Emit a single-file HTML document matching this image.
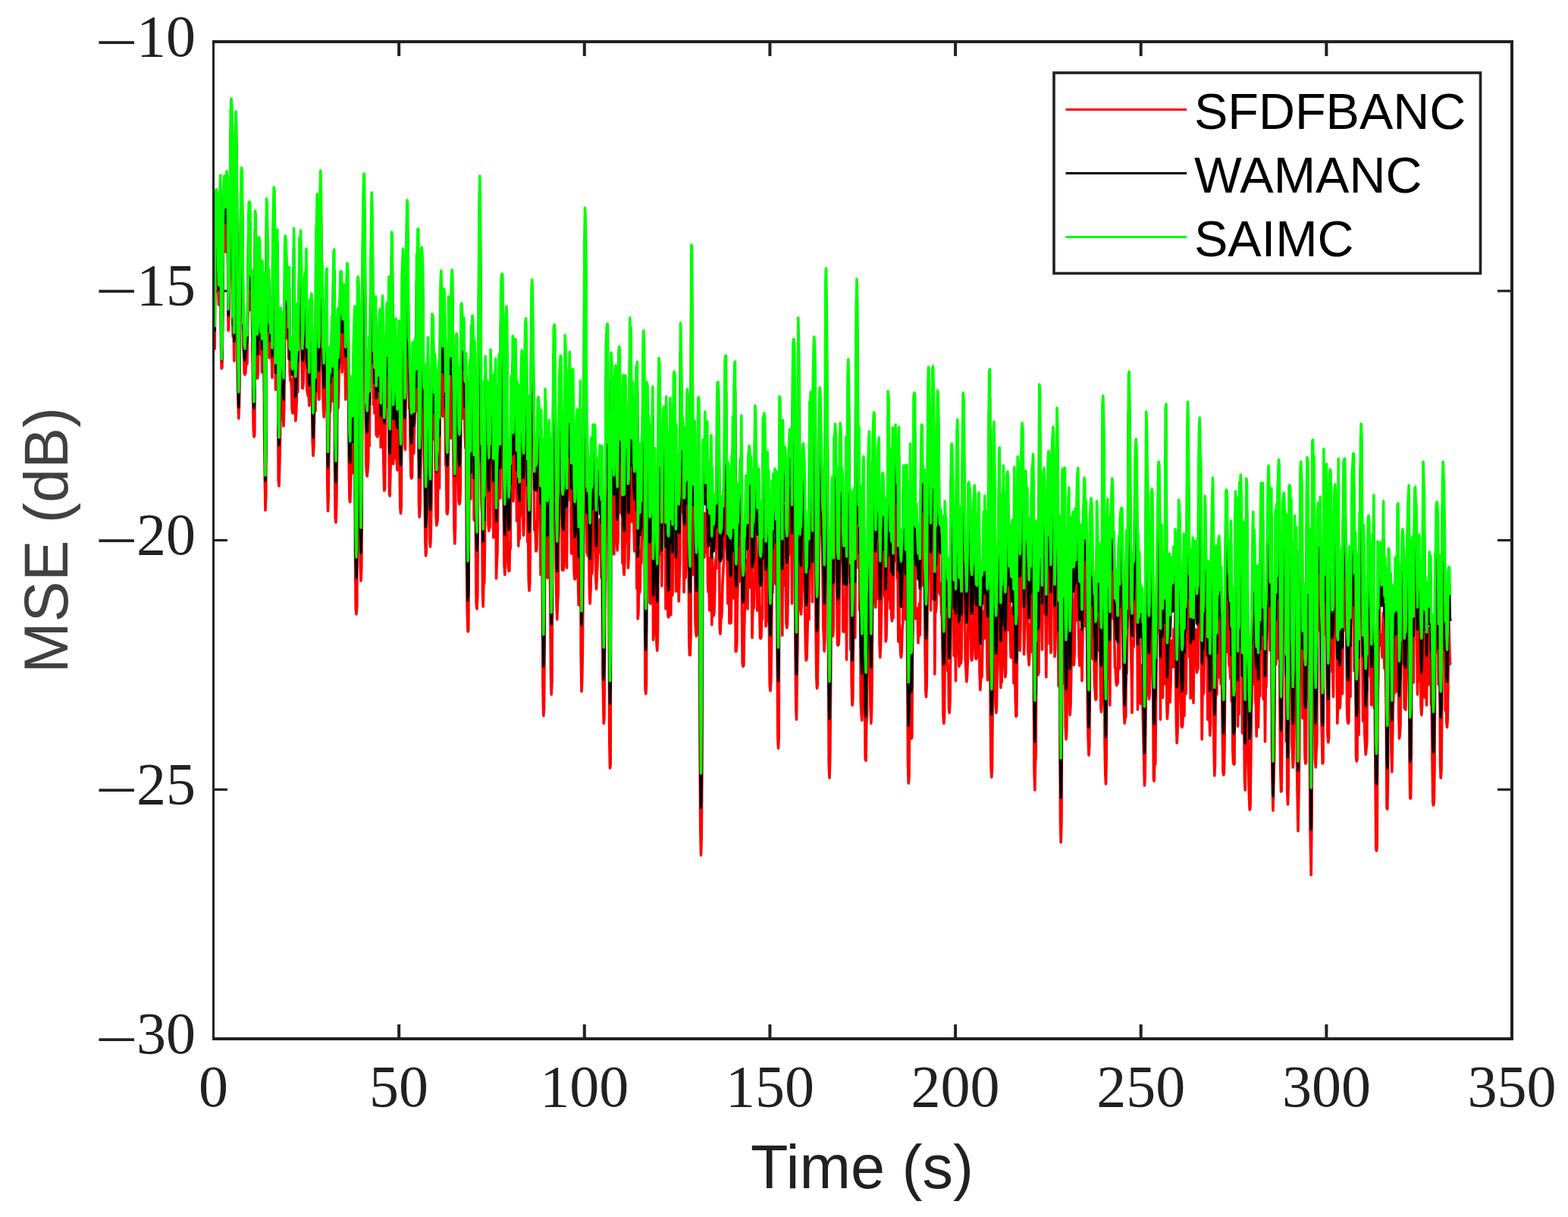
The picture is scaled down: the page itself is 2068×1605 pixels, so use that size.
<!DOCTYPE html>
<html><head><meta charset="utf-8"><style>
html,body{margin:0;padding:0;background:#fff;}
svg{display:block;}
</style></head><body>
<svg width="2068" height="1605" viewBox="0 0 2068 1605">
<rect width="2068" height="1605" fill="#fff"/>
<g fill="#212121"><rect x="524.14" y="1351" width="4" height="18"/><rect x="524.14" y="56" width="4" height="18"/><rect x="768.79" y="1351" width="4" height="18"/><rect x="768.79" y="56" width="4" height="18"/><rect x="1013.43" y="1351" width="4" height="18"/><rect x="1013.43" y="56" width="4" height="18"/><rect x="1258.07" y="1351" width="4" height="18"/><rect x="1258.07" y="56" width="4" height="18"/><rect x="1502.71" y="1351" width="4" height="18"/><rect x="1502.71" y="56" width="4" height="18"/><rect x="1747.36" y="1351" width="4" height="18"/><rect x="1747.36" y="56" width="4" height="18"/><rect x="1992.00" y="1351" width="4" height="18"/><rect x="1992.00" y="56" width="4" height="18"/><rect x="282" y="53.40" width="18" height="3.2"/><rect x="1975" y="53.40" width="18" height="3.2"/><rect x="282" y="382.15" width="18" height="3.2"/><rect x="1975" y="382.15" width="18" height="3.2"/><rect x="282" y="710.90" width="18" height="3.2"/><rect x="1975" y="710.90" width="18" height="3.2"/><rect x="282" y="1039.65" width="18" height="3.2"/><rect x="1975" y="1039.65" width="18" height="3.2"/><rect x="282" y="1368.40" width="18" height="3.2"/><rect x="1975" y="1368.40" width="18" height="3.2"/></g>
<g clip-path="url(#clip)">
<clipPath id="clip"><rect x="281.5" y="55.0" width="1712.5" height="1315.0"/></clipPath>
<path d="M282.5 318L283.2 460L284.0 313L284.8 307L285.5 292L286.2 297L287.0 347L287.8 382L288.5 402L289.2 291L290.0 304L290.8 274L291.5 458L292.2 486L293.0 484L293.8 420L294.5 321L295.2 298L296.0 275L296.8 300L297.5 332L298.2 297L299.0 270L299.8 304L300.5 348L301.2 436L302.0 417L302.8 373L303.5 295L304.2 228L305.0 175L305.8 198L306.5 298L307.2 444L308.0 427L308.8 476L309.5 237L310.2 247L311.0 192L311.8 223L312.5 318L313.2 490L314.0 529L314.8 552L315.5 534L316.2 479L317.0 358L317.8 305L318.5 267L319.2 299L320.0 353L320.8 456L321.5 466L322.2 492L323.0 494L323.8 492L324.5 481L325.2 473L326.0 480L326.8 420L327.5 365L328.2 316L329.0 313L329.8 325L330.5 409L331.2 390L332.0 397L332.8 440L333.5 508L334.2 565L335.0 576L335.8 574L336.5 326L337.2 344L338.0 450L338.8 481L339.5 499L340.2 492L341.0 431L341.8 361L342.5 383L343.2 391L344.0 468L344.8 398L345.5 491L346.2 384L347.0 488L347.8 388L348.5 561L349.2 627L350.0 673L350.8 651L351.5 312L352.2 320L353.0 388L353.8 442L354.5 392L355.2 472L356.0 454L356.8 472L357.5 465L358.2 463L359.0 498L359.8 374L360.5 339L361.2 297L362.0 332L362.8 396L363.5 514L364.2 427L365.0 358L365.8 348L366.5 474L367.2 634L368.0 641L368.8 612L369.5 580L370.2 449L371.0 479L371.8 451L372.5 511L373.2 550L374.0 562L374.8 532L375.5 442L376.2 363L377.0 372L377.8 392L378.5 436L379.2 447L380.0 436L380.8 473L381.5 416L382.2 491L383.0 502L383.8 500L384.5 512L385.2 540L386.0 545L386.8 544L387.5 353L388.2 482L389.0 523L389.8 555L390.5 546L391.2 531L392.0 446L392.8 517L393.5 477L394.2 428L395.0 390L395.8 395L396.5 358L397.2 416L398.0 466L398.8 512L399.5 512L400.2 504L401.0 475L401.8 425L402.5 413L403.2 438L404.0 392L404.8 514L405.5 518L406.2 522L407.0 510L407.8 535L408.5 446L409.2 490L410.0 463L410.8 442L411.5 519L412.2 582L413.0 601L413.8 590L414.5 548L415.2 488L416.0 542L416.8 384L417.5 369L418.2 311L419.0 448L419.8 515L420.5 527L421.2 526L422.0 404L422.8 282L423.5 344L424.2 446L425.0 435L425.8 522L426.5 538L427.2 550L428.0 533L428.8 509L429.5 444L430.2 426L431.0 411L431.8 639L432.5 674L433.2 653L434.0 579L434.8 520L435.5 543L436.2 524L437.0 505L437.8 479L438.5 529L439.2 439L440.0 406L440.8 387L441.5 604L442.2 683L443.0 689L443.8 664L444.5 596L445.2 455L446.0 538L446.8 512L447.5 469L448.2 479L449.0 430L449.8 417L450.5 417L451.2 491L452.0 476L452.8 430L453.5 427L454.2 465L455.0 466L455.8 527L456.5 482L457.2 456L458.0 406L458.8 430L459.5 496L460.2 610L461.0 659L461.8 662L462.5 636L463.2 621L464.0 595L464.8 624L465.5 608L466.2 576L467.0 480L467.8 464L468.5 730L469.2 801L470.0 810L470.8 798L471.5 586L472.2 426L473.0 426L473.8 471L474.5 595L475.2 747L476.0 766L476.8 749L477.5 610L478.2 433L479.0 369L479.8 290L480.5 341L481.2 385L482.0 482L482.8 612L483.5 624L484.2 628L485.0 619L485.8 608L486.5 517L487.2 588L488.0 505L488.8 427L489.5 405L490.2 316L491.0 379L491.8 444L492.5 534L493.2 479L494.0 545L494.8 534L495.5 469L496.2 574L497.0 573L497.8 576L498.5 572L499.2 570L500.0 503L500.8 467L501.5 472L502.2 590L503.0 505L503.8 500L504.5 454L505.2 572L506.0 618L506.8 647L507.5 645L508.2 585L509.0 519L509.8 470L510.5 463L511.2 481L512.0 537L512.8 500L513.5 651L514.2 654L515.0 619L515.8 598L516.5 370L517.2 402L518.0 491L518.8 612L519.5 552L520.2 545L521.0 499L521.8 541L522.5 605L523.2 606L524.0 620L524.8 573L525.5 522L526.2 476L527.0 607L527.8 669L528.5 677L529.2 667L530.0 521L530.8 462L531.5 394L532.2 429L533.0 486L533.8 586L534.5 593L535.2 430L536.0 422L536.8 330L537.5 389L538.2 434L539.0 515L539.8 539L540.5 540L541.2 593L542.0 628L542.8 631L543.5 629L544.2 579L545.0 523L545.8 598L546.5 562L547.2 552L548.0 533L548.8 542L549.5 420L550.2 432L551.0 369L551.8 495L552.5 664L553.2 682L554.0 669L554.8 622L555.5 457L556.2 393L557.0 421L557.8 445L558.5 548L559.2 602L560.0 628L560.8 710L561.5 733L562.2 728L563.0 645L563.8 566L564.5 509L565.2 637L566.0 645L566.8 713L567.5 721L568.2 708L569.0 659L569.8 483L570.5 493L571.2 493L572.0 555L572.8 580L573.5 537L574.2 617L575.0 678L575.8 693L576.5 689L577.2 686L578.0 565L578.8 543L579.5 644L580.2 531L581.0 466L581.8 426L582.5 505L583.2 548L584.0 549L584.8 498L585.5 450L586.2 495L587.0 538L587.8 613L588.5 611L589.2 675L590.0 678L590.8 670L591.5 540L592.2 539L593.0 543L593.8 551L594.5 578L595.2 504L596.0 425L596.8 468L597.5 552L598.2 627L599.0 696L599.8 717L600.5 696L601.2 596L602.0 510L602.8 547L603.5 588L604.2 613L605.0 661L605.8 665L606.5 663L607.2 648L608.0 505L608.8 470L609.5 529L610.2 532L611.0 552L611.8 519L612.5 535L613.2 572L614.0 591L614.8 539L615.5 743L616.2 804L617.0 833L617.8 831L618.5 695L619.2 553L620.0 538L620.8 658L621.5 516L622.2 540L623.0 487L623.8 508L624.5 576L625.2 686L626.0 551L626.8 573L627.5 721L628.2 796L629.0 803L629.8 784L630.5 654L631.2 543L632.0 407L632.8 303L633.5 413L634.2 546L635.0 661L635.8 678L636.5 781L637.2 800L638.0 763L638.8 769L639.5 711L640.2 538L641.0 608L641.8 577L642.5 574L643.2 621L644.0 692L644.8 700L645.5 682L646.2 696L647.0 533L647.8 571L648.5 596L649.2 620L650.0 613L650.8 709L651.5 592L652.2 624L653.0 631L653.8 545L654.5 763L655.2 744L656.0 727L656.8 662L657.5 621L658.2 566L659.0 597L659.8 657L660.5 507L661.2 503L662.0 434L662.8 488L663.5 531L664.2 658L665.0 744L665.8 758L666.5 731L667.2 594L668.0 477L668.8 548L669.5 720L670.2 747L671.0 753L671.8 753L672.5 715L673.2 724L674.0 608L674.8 642L675.5 646L676.2 536L677.0 661L677.8 631L678.5 579L679.2 521L680.0 570L680.8 605L681.5 687L682.2 592L683.0 641L683.8 720L684.5 688L685.2 711L686.0 626L686.8 622L687.5 604L688.2 536L689.0 677L689.8 685L690.5 706L691.2 685L692.0 577L692.8 555L693.5 494L694.2 524L695.0 615L695.8 715L696.5 684L697.2 764L698.0 779L698.8 768L699.5 687L700.2 603L701.0 514L701.8 444L702.5 531L703.2 543L704.0 596L704.8 699L705.5 687L706.2 704L707.0 727L707.8 725L708.5 694L709.2 622L710.0 599L710.8 666L711.5 638L712.2 679L713.0 758L713.8 655L714.5 715L715.2 759L716.0 908L716.8 944L717.5 934L718.2 855L719.0 588L719.8 665L720.5 722L721.2 761L722.0 762L722.8 759L723.5 637L724.2 664L725.0 722L725.8 787L726.5 890L727.2 916L728.0 898L728.8 729L729.5 646L730.2 545L731.0 503L731.8 535L732.5 614L733.2 743L734.0 797L734.8 817L735.5 793L736.2 782L737.0 684L737.8 624L738.5 586L739.2 544L740.0 590L740.8 664L741.5 751L742.2 752L743.0 752L743.8 744L744.5 682L745.2 517L746.0 586L746.8 608L747.5 749L748.2 660L749.0 602L749.8 612L750.5 624L751.2 539L752.0 660L752.8 646L753.5 730L754.2 655L755.0 598L755.8 562L756.5 729L757.2 756L758.0 764L758.8 763L759.5 702L760.2 685L761.0 634L761.8 617L762.5 768L763.2 798L764.0 779L764.8 723L765.5 577L766.2 863L767.0 912L767.8 894L768.5 850L769.2 731L770.0 681L770.8 459L771.5 350L772.2 436L773.0 500L773.8 729L774.5 643L775.2 733L776.0 703L776.8 736L777.5 786L778.2 796L779.0 777L779.8 736L780.5 757L781.2 752L782.0 680L782.8 671L783.5 682L784.2 636L785.0 717L785.8 762L786.5 777L787.2 761L788.0 746L788.8 720L789.5 698L790.2 710L791.0 685L791.8 729L792.5 720L793.2 762L794.0 687L794.8 887L795.5 913L796.2 954L797.0 947L797.8 804L798.5 761L799.2 561L800.0 555L800.8 503L801.5 553L802.2 677L803.0 749L803.8 979L804.5 1013L805.2 1008L806.0 541L806.8 631L807.5 701L808.2 622L809.0 687L809.8 731L810.5 587L811.2 593L812.0 558L812.8 673L813.5 717L814.2 726L815.0 712L815.8 624L816.5 533L817.2 563L818.0 637L818.8 677L819.5 665L820.2 634L821.0 743L821.8 683L822.5 752L823.2 758L824.0 738L824.8 571L825.5 637L826.2 715L827.0 654L827.8 678L828.5 749L829.2 734L830.0 700L830.8 495L831.5 574L832.2 582L833.0 688L833.8 625L834.5 604L835.2 626L836.0 693L836.8 727L837.5 696L838.2 637L839.0 601L839.8 776L840.5 553L841.2 816L842.0 808L842.8 743L843.5 782L844.2 777L845.0 724L845.8 743L846.5 679L847.2 708L848.0 613L848.8 512L849.5 608L850.2 718L851.0 908L851.8 915L852.5 901L853.2 580L854.0 610L854.8 695L855.5 630L856.2 640L857.0 795L857.8 796L858.5 660L859.2 703L860.0 762L860.8 586L861.5 844L862.2 835L863.0 787L863.8 680L864.5 791L865.2 808L866.0 849L866.8 858L867.5 835L868.2 725L869.0 549L869.8 603L870.5 636L871.2 731L872.0 709L872.8 773L873.5 701L874.2 646L875.0 652L875.8 613L876.5 686L877.2 671L878.0 803L878.8 631L879.5 680L880.2 759L881.0 812L881.8 814L882.5 781L883.2 755L884.0 634L884.8 811L885.5 690L886.2 685L887.0 785L887.8 674L888.5 640L889.2 567L890.0 646L890.8 687L891.5 780L892.2 667L893.0 701L893.8 720L894.5 743L895.2 793L896.0 763L896.8 742L897.5 502L898.2 625L899.0 641L899.8 676L900.5 651L901.2 665L902.0 781L902.8 749L903.5 681L904.2 762L905.0 734L905.8 679L906.5 590L907.2 638L908.0 679L908.8 845L909.5 864L910.2 864L911.0 838L911.8 400L912.5 474L913.2 611L914.0 758L914.8 704L915.5 702L916.2 663L917.0 819L917.8 833L918.5 839L919.2 834L920.0 782L920.8 627L921.5 601L922.2 656L923.0 978L923.8 1096L924.5 1128L925.2 1105L926.0 1001L926.8 699L927.5 688L928.2 702L929.0 735L929.8 677L930.5 717L931.2 729L932.0 698L932.8 634L933.5 767L934.2 781L935.0 765L935.8 805L936.5 736L937.2 751L938.0 706L938.8 824L939.5 735L940.2 808L941.0 812L941.8 809L942.5 792L943.2 750L944.0 737L944.8 750L945.5 642L946.2 651L947.0 581L947.8 660L948.5 687L949.2 827L950.0 836L950.8 816L951.5 815L952.2 805L953.0 769L953.8 756L954.5 739L955.2 709L956.0 639L956.8 547L957.5 582L958.2 716L959.0 731L959.8 796L960.5 735L961.2 732L962.0 822L962.8 810L963.5 822L964.2 821L965.0 753L965.8 713L966.5 666L967.2 789L968.0 666L968.8 598L969.5 554L970.2 859L971.0 859L971.8 848L972.5 794L973.2 772L974.0 764L974.8 767L975.5 723L976.2 713L977.0 744L977.8 664L978.5 807L979.2 875L980.0 879L980.8 878L981.5 832L982.2 805L983.0 758L983.8 762L984.5 780L985.2 738L986.0 803L986.8 708L987.5 730L988.2 665L989.0 705L989.8 775L990.5 700L991.2 742L992.0 841L992.8 802L993.5 803L994.2 802L995.0 770L995.8 612L996.5 668L997.2 705L998.0 724L998.8 805L999.5 743L1000.2 752L1001.0 734L1001.8 804L1002.5 841L1003.2 842L1004.0 840L1004.8 800L1005.5 816L1006.2 667L1007.0 673L1007.8 622L1008.5 663L1009.2 681L1010.0 826L1010.8 818L1011.5 768L1012.2 706L1013.0 791L1013.8 752L1014.5 836L1015.2 903L1016.0 911L1016.8 898L1017.5 849L1018.2 739L1019.0 782L1019.8 731L1020.5 716L1021.2 769L1022.0 711L1022.8 746L1023.5 771L1024.2 733L1025.0 838L1025.8 971L1026.5 987L1027.2 971L1028.0 601L1028.8 642L1029.5 699L1030.2 708L1031.0 680L1031.8 838L1032.5 693L1033.2 772L1034.0 735L1034.8 667L1035.5 708L1036.2 769L1037.0 821L1037.8 828L1038.5 823L1039.2 786L1040.0 706L1040.8 731L1041.5 643L1042.2 696L1043.0 731L1043.8 703L1044.5 796L1045.2 628L1046.0 616L1046.8 525L1047.5 581L1048.2 663L1049.0 865L1049.8 934L1050.5 949L1051.2 893L1052.0 850L1052.8 497L1053.5 614L1054.2 611L1055.0 792L1055.8 804L1056.5 810L1057.2 797L1058.0 764L1058.8 708L1059.5 663L1060.2 735L1061.0 728L1061.8 818L1062.5 857L1063.2 871L1064.0 868L1064.8 841L1065.5 804L1066.2 787L1067.0 817L1067.8 664L1068.5 651L1069.2 595L1070.0 650L1070.8 746L1071.5 794L1072.2 648L1073.0 638L1073.8 522L1074.5 584L1075.2 646L1076.0 827L1076.8 893L1077.5 908L1078.2 904L1079.0 847L1079.8 761L1080.5 643L1081.2 588L1082.0 643L1082.8 691L1083.5 697L1084.2 710L1085.0 752L1085.8 825L1086.5 843L1087.2 859L1088.0 842L1088.8 626L1089.5 432L1090.2 540L1091.0 655L1091.8 702L1092.5 869L1093.2 1008L1094.0 1026L1094.8 997L1095.5 918L1096.2 807L1097.0 767L1097.8 765L1098.5 839L1099.2 828L1100.0 700L1100.8 726L1101.5 637L1102.2 672L1103.0 740L1103.8 782L1104.5 850L1105.2 851L1106.0 850L1106.8 834L1107.5 723L1108.2 636L1109.0 675L1109.8 743L1110.5 714L1111.2 739L1112.0 833L1112.8 833L1113.5 833L1114.2 831L1115.0 822L1115.8 733L1116.5 870L1117.2 741L1118.0 641L1118.8 552L1119.5 620L1120.2 751L1121.0 761L1121.8 857L1122.5 818L1123.2 902L1124.0 930L1124.8 922L1125.5 838L1126.2 771L1127.0 835L1127.8 841L1128.5 677L1129.2 548L1130.0 445L1130.8 554L1131.5 677L1132.2 749L1133.0 679L1133.8 805L1134.5 738L1135.2 925L1136.0 940L1136.8 950L1137.5 928L1138.2 804L1139.0 758L1139.8 777L1140.5 904L1141.2 1001L1142.0 1003L1142.8 954L1143.5 942L1144.2 835L1145.0 723L1145.8 718L1146.5 647L1147.2 855L1148.0 932L1148.8 954L1149.5 940L1150.2 889L1151.0 716L1151.8 697L1152.5 621L1153.2 660L1154.0 791L1154.8 801L1155.5 760L1156.2 790L1157.0 765L1157.8 691L1158.5 738L1159.2 654L1160.0 849L1160.8 867L1161.5 851L1162.2 825L1163.0 778L1163.8 731L1164.5 701L1165.2 758L1166.0 779L1166.8 787L1167.5 773L1168.2 846L1169.0 841L1169.8 797L1170.5 790L1171.2 593L1172.0 648L1172.8 756L1173.5 718L1174.2 803L1175.0 767L1175.8 812L1176.5 819L1177.2 708L1178.0 815L1178.8 718L1179.5 712L1180.2 740L1181.0 638L1181.8 701L1182.5 703L1183.2 763L1184.0 743L1184.8 846L1185.5 666L1186.2 825L1187.0 842L1187.8 863L1188.5 867L1189.2 860L1190.0 830L1190.8 821L1191.5 704L1192.2 691L1193.0 735L1193.8 774L1194.5 817L1195.2 747L1196.0 735L1196.8 895L1197.5 1005L1198.2 1033L1199.0 1024L1199.8 914L1200.5 776L1201.2 955L1202.0 974L1202.8 972L1203.5 852L1204.2 828L1205.0 641L1205.8 595L1206.5 679L1207.2 809L1208.0 816L1208.8 802L1209.5 808L1210.2 813L1211.0 848L1211.8 805L1212.5 796L1213.2 838L1214.0 783L1214.8 727L1215.5 637L1216.2 665L1217.0 772L1217.8 727L1218.5 753L1219.2 747L1220.0 849L1220.8 910L1221.5 919L1222.2 904L1223.0 809L1223.8 697L1224.5 561L1225.2 662L1226.0 723L1226.8 737L1227.5 805L1228.2 720L1229.0 790L1229.8 652L1230.5 559L1231.2 630L1232.0 699L1232.8 889L1233.5 799L1234.2 807L1235.0 799L1235.8 753L1236.5 592L1237.2 636L1238.0 676L1238.8 780L1239.5 784L1240.2 769L1241.0 787L1241.8 810L1242.5 815L1243.2 871L1244.0 944L1244.8 954L1245.5 945L1246.2 856L1247.0 794L1247.8 802L1248.5 873L1249.2 863L1250.0 885L1250.8 878L1251.5 935L1252.2 940L1253.0 923L1253.8 853L1254.5 731L1255.2 662L1256.0 768L1256.8 776L1257.5 800L1258.2 865L1259.0 851L1259.8 830L1260.5 898L1261.2 748L1262.0 708L1262.8 630L1263.5 800L1264.2 859L1265.0 879L1265.8 864L1266.5 823L1267.2 875L1268.0 869L1268.8 797L1269.5 731L1270.2 595L1271.0 693L1271.8 727L1272.5 818L1273.2 869L1274.0 883L1274.8 899L1275.5 892L1276.2 872L1277.0 784L1277.8 713L1278.5 769L1279.2 775L1280.0 826L1280.8 867L1281.5 871L1282.2 869L1283.0 859L1283.8 799L1284.5 778L1285.2 716L1286.0 753L1286.8 868L1287.5 869L1288.2 868L1289.0 796L1289.8 810L1290.5 767L1291.2 727L1292.0 888L1292.8 910L1293.5 898L1294.2 871L1295.0 893L1295.8 852L1296.5 823L1297.2 806L1298.0 842L1298.8 786L1299.5 823L1300.2 764L1301.0 784L1301.8 869L1302.5 897L1303.2 862L1304.0 674L1304.8 640L1305.5 563L1306.2 936L1307.0 1011L1307.8 1025L1308.5 1010L1309.2 928L1310.0 710L1310.8 632L1311.5 735L1312.2 843L1313.0 927L1313.8 940L1314.5 931L1315.2 876L1316.0 861L1316.8 821L1317.5 705L1318.2 667L1319.0 877L1319.8 907L1320.5 889L1321.2 900L1322.0 761L1322.8 780L1323.5 760L1324.2 859L1325.0 881L1325.8 893L1326.5 888L1327.2 804L1328.0 736L1328.8 698L1329.5 754L1330.2 831L1331.0 830L1331.8 775L1332.5 848L1333.2 867L1334.0 847L1334.8 802L1335.5 868L1336.2 825L1337.0 901L1337.8 765L1338.5 855L1339.2 921L1340.0 945L1340.8 944L1341.5 860L1342.2 678L1343.0 752L1343.8 832L1344.5 774L1345.2 858L1346.0 824L1346.8 723L1347.5 692L1348.2 634L1349.0 709L1349.8 742L1350.5 863L1351.2 842L1352.0 816L1352.8 753L1353.5 789L1354.2 718L1355.0 779L1355.8 858L1356.5 867L1357.2 877L1358.0 860L1358.8 823L1359.5 860L1360.2 750L1361.0 742L1361.8 733L1362.5 675L1363.2 873L1364.0 1017L1364.8 1042L1365.5 1005L1366.2 997L1367.0 788L1367.8 857L1368.5 889L1369.2 890L1370.0 887L1370.8 583L1371.5 649L1372.2 729L1373.0 822L1373.8 825L1374.5 857L1375.2 779L1376.0 741L1376.8 693L1377.5 782L1378.2 807L1379.0 812L1379.8 893L1380.5 808L1381.2 811L1382.0 745L1382.8 671L1383.5 701L1384.2 849L1385.0 816L1385.8 861L1386.5 858L1387.2 721L1388.0 692L1388.8 639L1389.5 707L1390.2 723L1391.0 866L1391.8 852L1392.5 817L1393.2 794L1394.0 614L1394.8 719L1395.5 803L1396.2 905L1397.0 826L1397.8 900L1398.5 1085L1399.2 1111L1400.0 1084L1400.8 885L1401.5 694L1402.2 783L1403.0 750L1403.8 901L1404.5 827L1405.2 957L1406.0 975L1406.8 965L1407.5 879L1408.2 851L1409.0 768L1409.8 718L1410.5 915L1411.2 943L1412.0 930L1412.8 885L1413.5 780L1414.2 796L1415.0 797L1415.8 877L1416.5 877L1417.2 859L1418.0 757L1418.8 819L1419.5 806L1420.2 776L1421.0 743L1421.8 693L1422.5 830L1423.2 866L1424.0 878L1424.8 873L1425.5 835L1426.2 830L1427.0 898L1427.8 847L1428.5 795L1429.2 801L1430.0 705L1430.8 755L1431.5 826L1432.2 770L1433.0 807L1433.8 854L1434.5 948L1435.2 975L1436.0 996L1436.8 983L1437.5 870L1438.2 782L1439.0 733L1439.8 788L1440.5 822L1441.2 869L1442.0 861L1442.8 849L1443.5 902L1444.2 911L1445.0 923L1445.8 922L1446.5 828L1447.2 773L1448.0 820L1448.8 809L1449.5 858L1450.2 825L1451.0 871L1451.8 932L1452.5 939L1453.2 927L1454.0 784L1454.8 597L1455.5 688L1456.2 732L1457.0 977L1457.8 1021L1458.5 1034L1459.2 1002L1460.0 849L1460.8 786L1461.5 884L1462.2 895L1463.0 767L1463.8 930L1464.5 814L1465.2 780L1466.0 810L1466.8 706L1467.5 781L1468.2 816L1469.0 795L1469.8 839L1470.5 881L1471.2 881L1472.0 900L1472.8 904L1473.5 890L1474.2 901L1475.0 821L1475.8 832L1476.5 882L1477.2 775L1478.0 794L1478.8 745L1479.5 757L1480.2 767L1481.0 850L1481.8 907L1482.5 939L1483.2 954L1484.0 946L1484.8 946L1485.5 820L1486.2 888L1487.0 819L1487.8 804L1488.5 629L1489.2 565L1490.0 669L1490.8 798L1491.5 852L1492.2 880L1493.0 940L1493.8 845L1494.5 853L1495.2 853L1496.0 824L1496.8 726L1497.5 688L1498.2 654L1499.0 696L1499.8 784L1500.5 936L1501.2 833L1502.0 908L1502.8 838L1503.5 909L1504.2 928L1505.0 877L1505.8 910L1506.5 879L1507.2 939L1508.0 975L1508.8 1009L1509.5 1036L1510.2 1023L1511.0 931L1511.8 618L1512.5 675L1513.2 765L1514.0 800L1514.8 916L1515.5 922L1516.2 915L1517.0 880L1517.8 831L1518.5 785L1519.2 720L1520.0 795L1520.8 930L1521.5 1028L1522.2 1030L1523.0 997L1523.8 1008L1524.5 932L1525.2 862L1526.0 823L1526.8 834L1527.5 724L1528.2 684L1529.0 727L1529.8 815L1530.5 949L1531.2 781L1532.0 816L1532.8 898L1533.5 920L1534.2 817L1535.0 844L1535.8 902L1536.5 824L1537.2 703L1538.0 608L1538.8 929L1539.5 948L1540.2 935L1541.0 916L1541.8 837L1542.5 845L1543.2 926L1544.0 899L1544.8 845L1545.5 858L1546.2 856L1547.0 880L1547.8 830L1548.5 831L1549.2 877L1550.0 807L1550.8 912L1551.5 958L1552.2 980L1553.0 966L1553.8 920L1554.5 734L1555.2 798L1556.0 785L1556.8 877L1557.5 923L1558.2 958L1559.0 959L1559.8 956L1560.5 896L1561.2 785L1562.0 944L1562.8 806L1563.5 881L1564.2 915L1565.0 827L1565.8 700L1566.5 604L1567.2 705L1568.0 812L1568.8 867L1569.5 804L1570.2 921L1571.0 881L1571.8 882L1572.5 879L1573.2 844L1574.0 927L1574.8 838L1575.5 878L1576.2 835L1577.0 830L1577.8 859L1578.5 887L1579.2 883L1580.0 882L1580.8 795L1581.5 751L1582.2 625L1583.0 724L1583.8 764L1584.5 875L1585.2 975L1586.0 912L1586.8 916L1587.5 914L1588.2 870L1589.0 728L1589.8 802L1590.5 837L1591.2 864L1592.0 835L1592.8 949L1593.5 840L1594.2 927L1595.0 943L1595.8 970L1596.5 958L1597.2 863L1598.0 794L1598.8 778L1599.5 704L1600.2 893L1601.0 985L1601.8 1023L1602.5 1006L1603.2 928L1604.0 849L1604.8 916L1605.5 862L1606.2 894L1607.0 813L1607.8 804L1608.5 835L1609.2 865L1610.0 902L1610.8 863L1611.5 893L1612.2 956L1613.0 1017L1613.8 1022L1614.5 1016L1615.2 967L1616.0 835L1616.8 783L1617.5 720L1618.2 763L1619.0 860L1619.8 811L1620.5 858L1621.2 878L1622.0 876L1622.8 895L1623.5 785L1624.2 925L1625.0 874L1625.8 988L1626.5 1006L1627.2 1008L1628.0 1008L1628.8 882L1629.5 754L1630.2 872L1631.0 804L1631.8 765L1632.5 958L1633.2 860L1634.0 942L1634.8 761L1635.5 784L1636.2 700L1637.0 782L1637.8 811L1638.5 967L1639.2 860L1640.0 780L1640.8 956L1641.5 1029L1642.2 1042L1643.0 996L1643.8 705L1644.5 768L1645.2 841L1646.0 960L1646.8 1028L1647.5 1052L1648.2 1068L1649.0 1065L1649.8 1000L1650.5 934L1651.2 919L1652.0 810L1652.8 791L1653.5 902L1654.2 800L1655.0 847L1655.8 923L1656.5 931L1657.2 971L1658.0 892L1658.8 861L1659.5 959L1660.2 917L1661.0 845L1661.8 918L1662.5 787L1663.2 776L1664.0 711L1664.8 774L1665.5 787L1666.2 922L1667.0 881L1667.8 896L1668.5 978L1669.2 907L1670.0 906L1670.8 846L1671.5 820L1672.2 767L1673.0 688L1673.8 767L1674.5 788L1675.2 858L1676.0 810L1676.8 718L1677.5 980L1678.2 1036L1679.0 1069L1679.8 1034L1680.5 1004L1681.2 874L1682.0 780L1682.8 876L1683.5 748L1684.2 869L1685.0 771L1685.8 798L1686.5 680L1687.2 710L1688.0 927L1688.8 1015L1689.5 1044L1690.2 1043L1691.0 951L1691.8 780L1692.5 785L1693.2 724L1694.0 788L1694.8 795L1695.5 861L1696.2 978L1697.0 882L1697.8 1046L1698.5 1061L1699.2 1038L1700.0 876L1700.8 714L1701.5 767L1702.2 788L1703.0 765L1703.8 977L1704.5 991L1705.2 1012L1706.0 1002L1706.8 937L1707.5 786L1708.2 849L1709.0 907L1709.8 817L1710.5 1009L1711.2 1050L1712.0 1096L1712.8 1050L1713.5 1009L1714.2 859L1715.0 751L1715.8 682L1716.5 736L1717.2 780L1718.0 947L1718.8 937L1719.5 878L1720.2 919L1721.0 998L1721.8 1007L1722.5 1006L1723.2 879L1724.0 677L1724.8 727L1725.5 759L1726.2 875L1727.0 802L1727.8 1083L1728.5 1116L1729.2 1154L1730.0 1082L1730.8 872L1731.5 653L1732.2 773L1733.0 756L1733.8 916L1734.5 1000L1735.2 1012L1736.0 993L1736.8 980L1737.5 795L1738.2 751L1739.0 831L1739.8 792L1740.5 812L1741.2 754L1742.0 908L1742.8 947L1743.5 972L1744.2 1007L1745.0 1006L1745.8 802L1746.5 837L1747.2 729L1748.0 804L1748.8 743L1749.5 685L1750.2 898L1751.0 969L1751.8 979L1752.5 973L1753.2 829L1754.0 692L1754.8 716L1755.5 760L1756.2 812L1757.0 886L1757.8 888L1758.5 919L1759.2 825L1760.0 791L1760.8 712L1761.5 779L1762.2 765L1763.0 854L1763.8 954L1764.5 930L1765.2 806L1766.0 924L1766.8 934L1767.5 931L1768.2 907L1769.0 839L1769.8 827L1770.5 915L1771.2 812L1772.0 723L1772.8 679L1773.5 736L1774.2 737L1775.0 832L1775.8 820L1776.5 931L1777.2 950L1778.0 954L1778.8 952L1779.5 864L1780.2 854L1781.0 919L1781.8 830L1782.5 804L1783.2 749L1784.0 750L1784.8 671L1785.5 728L1786.2 885L1787.0 824L1787.8 864L1788.5 997L1789.2 1004L1790.0 1001L1790.8 878L1791.5 943L1792.2 969L1793.0 774L1793.8 811L1794.5 693L1795.2 632L1796.0 723L1796.8 839L1797.5 951L1798.2 769L1799.0 818L1799.8 968L1800.5 981L1801.2 995L1802.0 987L1802.8 979L1803.5 841L1804.2 822L1805.0 753L1805.8 821L1806.5 829L1807.2 891L1808.0 896L1808.8 930L1809.5 895L1810.2 812L1811.0 896L1811.8 786L1812.5 934L1813.2 924L1814.0 1028L1814.8 1120L1815.5 1122L1816.2 1113L1817.0 928L1817.8 889L1818.5 811L1819.2 793L1820.0 851L1820.8 837L1821.5 839L1822.2 850L1823.0 867L1823.8 839L1824.5 808L1825.2 856L1826.0 882L1826.8 861L1827.5 887L1828.2 928L1829.0 1065L1829.8 1067L1830.5 1027L1831.2 796L1832.0 819L1832.8 881L1833.5 911L1834.2 917L1835.0 992L1835.8 1018L1836.5 978L1837.2 935L1838.0 911L1838.8 915L1839.5 900L1840.2 831L1841.0 865L1841.8 912L1842.5 872L1843.2 770L1844.0 736L1844.8 939L1845.5 974L1846.2 969L1847.0 956L1847.8 858L1848.5 876L1849.2 793L1850.0 770L1850.8 827L1851.5 857L1852.2 933L1853.0 935L1853.8 936L1854.5 918L1855.2 883L1856.0 819L1856.8 765L1857.5 774L1858.2 712L1859.0 1000L1859.8 1053L1860.5 1053L1861.2 1015L1862.0 812L1862.8 843L1863.5 887L1864.2 900L1865.0 811L1865.8 747L1866.5 714L1867.2 777L1868.0 795L1868.8 853L1869.5 916L1870.2 846L1871.0 829L1871.8 797L1872.5 897L1873.2 873L1874.0 929L1874.8 943L1875.5 931L1876.2 892L1877.0 681L1877.8 768L1878.5 794L1879.2 920L1880.0 846L1880.8 872L1881.5 930L1882.2 870L1883.0 886L1883.8 903L1884.5 861L1885.2 828L1886.0 849L1886.8 822L1887.5 929L1888.2 924L1889.0 1001L1889.8 1058L1890.5 1062L1891.2 1059L1892.0 1012L1892.8 843L1893.5 861L1894.2 776L1895.0 734L1895.8 764L1896.5 797L1897.2 903L1898.0 851L1898.8 865L1899.5 1008L1900.2 1026L1901.0 1016L1901.8 922L1902.5 731L1903.2 681L1904.0 731L1904.8 768L1905.5 812L1906.2 937L1907.0 921L1907.8 952L1908.5 959L1909.2 949L1910.0 886L1910.8 820L1911.5 847L1912.2 876L1913.0 873" fill="none" stroke="#ff0000" stroke-width="3.6" stroke-linejoin="round"/>
<path d="M282.5 291L283.2 436L284.0 290L284.8 278L285.5 271L286.2 270L287.0 314L287.8 362L288.5 382L289.2 273L290.0 276L290.8 252L291.5 429L292.2 475L293.0 466L293.8 379L294.5 298L295.2 261L296.0 254L296.8 267L297.5 293L298.2 263L299.0 248L299.8 266L300.5 310L301.2 416L302.0 392L302.8 354L303.5 270L304.2 183L305.0 153L305.8 167L306.5 260L307.2 429L308.0 403L308.8 450L309.5 205L310.2 204L311.0 169L311.8 193L312.5 277L313.2 452L314.0 501L314.8 537L315.5 511L316.2 438L317.0 336L317.8 270L318.5 244L319.2 258L320.0 323L320.8 434L321.5 435L322.2 471L323.0 475L323.8 466L324.5 457L325.2 450L326.0 451L326.8 395L327.5 329L328.2 281L329.0 290L329.8 291L330.5 381L331.2 374L332.0 365L332.8 426L333.5 467L334.2 525L335.0 538L335.8 525L336.5 302L337.2 306L338.0 407L338.8 440L339.5 467L340.2 457L341.0 369L341.8 337L342.5 343L343.2 357L344.0 447L344.8 375L345.5 460L346.2 357L347.0 459L347.8 369L348.5 490L349.2 570L350.0 634L350.8 591L351.5 287L352.2 288L353.0 348L353.8 410L354.5 368L355.2 437L356.0 418L356.8 450L357.5 432L358.2 429L359.0 470L359.8 330L360.5 303L361.2 272L362.0 278L362.8 363L363.5 492L364.2 390L365.0 325L365.8 322L366.5 406L367.2 574L368.0 587L368.8 545L369.5 514L370.2 416L371.0 452L371.8 421L372.5 469L373.2 512L374.0 527L374.8 482L375.5 377L376.2 337L377.0 332L377.8 352L378.5 407L379.2 406L380.0 409L380.8 446L381.5 380L382.2 474L383.0 471L383.8 473L384.5 463L385.2 494L386.0 490L386.8 482L387.5 327L388.2 424L389.0 478L389.8 523L390.5 510L391.2 487L392.0 414L392.8 477L393.5 445L394.2 395L395.0 344L395.8 347L396.5 331L397.2 364L398.0 415L398.8 475L399.5 475L400.2 466L401.0 433L401.8 386L402.5 386L403.2 397L404.0 357L404.8 479L405.5 479L406.2 485L407.0 471L407.8 508L408.5 409L409.2 440L410.0 421L410.8 414L411.5 458L412.2 544L413.0 577L413.8 557L414.5 502L415.2 453L416.0 516L416.8 330L417.5 325L418.2 284L419.0 380L419.8 471L420.5 489L421.2 481L422.0 324L422.8 253L423.5 293L424.2 415L425.0 374L425.8 480L426.5 494L427.2 511L428.0 487L428.8 466L429.5 397L430.2 387L431.0 382L431.8 564L432.5 616L433.2 585L434.0 519L434.8 472L435.5 505L436.2 487L437.0 473L437.8 433L438.5 495L439.2 402L440.0 355L440.8 358L441.5 525L442.2 619L443.0 636L443.8 601L444.5 524L445.2 422L446.0 486L446.8 477L447.5 418L448.2 422L449.0 380L449.8 387L450.5 382L451.2 438L452.0 435L452.8 400L453.5 393L454.2 424L455.0 430L455.8 470L456.5 439L457.2 399L458.0 376L458.8 392L459.5 461L460.2 553L461.0 602L461.8 610L462.5 570L463.2 563L464.0 542L464.8 583L465.5 556L466.2 510L467.0 443L467.8 425L468.5 653L469.2 737L470.0 762L470.8 729L471.5 468L472.2 396L473.0 397L473.8 424L474.5 494L475.2 691L476.0 729L476.8 693L477.5 527L478.2 364L479.0 298L479.8 260L480.5 276L481.2 344L482.0 431L482.8 553L483.5 563L484.2 570L485.0 554L485.8 540L486.5 459L487.2 533L488.0 473L488.8 384L489.5 340L490.2 285L491.0 311L491.8 399L492.5 479L493.2 429L494.0 505L494.8 506L495.5 416L496.2 525L497.0 504L497.8 511L498.5 511L499.2 515L500.0 449L500.8 425L501.5 429L502.2 549L503.0 449L503.8 447L504.5 422L505.2 476L506.0 524L506.8 558L507.5 552L508.2 510L509.0 484L509.8 433L510.5 431L511.2 433L512.0 495L512.8 397L513.5 592L514.2 598L515.0 550L515.8 519L516.5 338L517.2 342L518.0 440L518.8 552L519.5 515L520.2 506L521.0 446L521.8 463L522.5 554L523.2 560L524.0 564L524.8 513L525.5 484L526.2 443L527.0 539L527.8 597L528.5 613L529.2 594L530.0 419L530.8 383L531.5 361L532.2 379L533.0 424L533.8 551L534.5 537L535.2 386L536.0 360L536.8 297L537.5 308L538.2 389L539.0 468L539.8 475L540.5 504L541.2 536L542.0 575L542.8 584L543.5 575L544.2 509L545.0 482L545.8 561L546.5 512L547.2 485L548.0 469L548.8 510L549.5 371L550.2 379L551.0 335L551.8 382L552.5 600L553.2 630L554.0 611L554.8 552L555.5 381L556.2 360L557.0 368L557.8 391L558.5 505L559.2 531L560.0 546L560.8 654L561.5 695L562.2 678L563.0 577L563.8 508L564.5 469L565.2 588L566.0 564L566.8 659L567.5 672L568.2 646L569.0 579L569.8 448L570.5 441L571.2 446L572.0 507L572.8 544L573.5 486L574.2 526L575.0 603L575.8 622L576.5 611L577.2 613L578.0 513L578.8 498L579.5 574L580.2 486L581.0 406L581.8 391L582.5 423L583.2 465L584.0 491L584.8 430L585.5 415L586.2 415L587.0 472L587.8 539L588.5 526L589.2 604L590.0 614L590.8 598L591.5 448L592.2 464L593.0 474L593.8 493L594.5 493L595.2 413L596.0 391L596.8 394L597.5 498L598.2 551L599.0 600L599.8 627L600.5 603L601.2 496L602.0 475L602.8 478L603.5 528L604.2 536L605.0 605L605.8 614L606.5 609L607.2 583L608.0 439L608.8 435L609.5 448L610.2 471L611.0 488L611.8 454L612.5 489L613.2 537L614.0 533L614.8 494L615.5 671L616.2 744L617.0 792L617.8 780L618.5 606L619.2 502L620.0 499L620.8 623L621.5 453L622.2 482L623.0 451L623.8 456L624.5 508L625.2 630L626.0 473L626.8 495L627.5 639L628.2 708L629.0 726L629.8 706L630.5 551L631.2 450L632.0 332L632.8 267L633.5 335L634.2 475L635.0 609L635.8 567L636.5 690L637.2 714L638.0 661L638.8 686L639.5 635L640.2 495L641.0 540L641.8 535L642.5 538L643.2 535L644.0 630L644.8 647L645.5 614L646.2 612L647.0 490L647.8 505L648.5 531L649.2 570L650.0 544L650.8 634L651.5 525L652.2 546L653.0 539L653.8 509L654.5 687L655.2 654L656.0 635L656.8 605L657.5 552L658.2 487L659.0 522L659.8 617L660.5 429L661.2 411L662.0 397L662.8 407L663.5 461L664.2 564L665.0 680L665.8 705L666.5 658L667.2 478L668.0 441L668.8 463L669.5 640L670.2 684L671.0 699L671.8 694L672.5 639L673.2 639L674.0 527L674.8 568L675.5 584L676.2 479L677.0 599L677.8 562L678.5 499L679.2 484L680.0 484L680.8 552L681.5 620L682.2 525L683.0 568L683.8 651L684.5 637L685.2 660L686.0 562L686.8 551L687.5 517L688.2 499L689.0 613L689.8 630L690.5 630L691.2 621L692.0 519L692.8 471L693.5 457L694.2 471L695.0 557L695.8 640L696.5 579L697.2 687L698.0 701L698.8 682L699.5 593L700.2 523L701.0 418L701.8 406L702.5 436L703.2 479L704.0 547L704.8 645L705.5 616L706.2 618L707.0 647L707.8 644L708.5 611L709.2 548L710.0 562L710.8 569L711.5 566L712.2 612L713.0 664L713.8 565L714.5 644L715.2 660L716.0 821L716.8 879L717.5 853L718.2 751L719.0 550L719.8 579L720.5 639L721.2 696L722.0 706L722.8 696L723.5 599L724.2 580L725.0 637L725.8 660L726.5 787L727.2 823L728.0 798L728.8 600L729.5 570L730.2 467L731.0 466L731.8 480L732.5 563L733.2 663L734.0 729L734.8 753L735.5 710L736.2 703L737.0 605L737.8 529L738.5 519L739.2 506L740.0 511L740.8 602L741.5 681L742.2 693L743.0 698L743.8 677L744.5 599L745.2 480L746.0 498L746.8 530L747.5 668L748.2 610L749.0 560L749.8 551L750.5 544L751.2 501L752.0 603L752.8 580L753.5 644L754.2 593L755.0 518L755.8 524L756.5 643L757.2 688L758.0 708L758.8 703L759.5 617L760.2 585L761.0 571L761.8 579L762.5 691L763.2 734L764.0 699L764.8 626L765.5 539L766.2 751L767.0 824L767.8 795L768.5 757L769.2 688L770.0 586L770.8 382L771.5 312L772.2 338L773.0 399L773.8 676L774.5 586L775.2 677L776.0 661L776.8 661L777.5 719L778.2 737L779.0 704L779.8 641L780.5 668L781.2 671L782.0 595L782.8 596L783.5 610L784.2 598L785.0 627L785.8 699L786.5 720L787.2 688L788.0 663L788.8 638L789.5 635L790.2 648L791.0 611L791.8 678L792.5 673L793.2 690L794.0 619L794.8 797L795.5 829L796.2 896L797.0 875L797.8 706L798.5 674L799.2 501L800.0 481L800.8 465L801.5 479L802.2 626L803.0 620L803.8 876L804.5 928L805.2 900L806.0 503L806.8 524L807.5 646L808.2 568L809.0 591L809.8 652L810.5 533L811.2 520L812.0 520L812.8 564L813.5 661L814.2 685L815.0 648L815.8 546L816.5 495L817.2 504L818.0 563L818.8 609L819.5 585L820.2 566L821.0 680L821.8 567L822.5 687L823.2 700L824.0 659L824.8 533L825.5 560L826.2 626L827.0 564L827.8 590L828.5 676L829.2 676L830.0 617L830.8 457L831.5 499L832.2 484L833.0 613L833.8 568L834.5 545L835.2 583L836.0 640L836.8 658L837.5 651L838.2 570L839.0 526L839.8 673L840.5 515L841.2 734L842.0 717L842.8 645L843.5 704L844.2 705L845.0 671L845.8 697L846.5 596L847.2 614L848.0 508L848.8 474L849.5 508L850.2 602L851.0 838L851.8 857L852.5 823L853.2 542L854.0 553L854.8 606L855.5 576L856.2 588L857.0 715L857.8 707L858.5 596L859.2 610L860.0 651L860.8 548L861.5 785L862.2 761L863.0 708L863.8 621L864.5 717L865.2 716L866.0 775L866.8 793L867.5 757L868.2 623L869.0 511L869.8 531L870.5 572L871.2 651L872.0 621L872.8 726L873.5 638L874.2 591L875.0 583L875.8 575L876.5 595L877.2 596L878.0 721L878.8 569L879.5 597L880.2 671L881.0 771L881.8 778L882.5 722L883.2 685L884.0 560L884.8 715L885.5 576L886.2 592L887.0 728L887.8 607L888.5 533L889.2 528L890.0 545L890.8 627L891.5 735L892.2 585L893.0 645L893.8 627L894.5 656L895.2 700L896.0 703L896.8 666L897.5 464L898.2 501L899.0 559L899.8 619L900.5 593L901.2 616L902.0 686L902.8 691L903.5 593L904.2 665L905.0 664L905.8 567L906.5 551L907.2 564L908.0 613L908.8 746L909.5 773L910.2 781L911.0 728L911.8 362L912.5 387L913.2 505L914.0 666L914.8 641L915.5 633L916.2 602L917.0 712L917.8 760L918.5 779L919.2 769L920.0 680L920.8 558L921.5 563L922.2 594L923.0 855L923.8 1004L924.5 1065L925.2 1013L926.0 882L926.8 614L927.5 636L928.2 629L929.0 643L929.8 582L930.5 665L931.2 652L932.0 594L932.8 595L933.5 687L934.2 720L935.0 695L935.8 713L936.5 632L937.2 645L938.0 609L938.8 735L939.5 652L940.2 719L941.0 727L941.8 721L942.5 698L943.2 686L944.0 686L944.8 696L945.5 584L946.2 541L947.0 543L947.8 572L948.5 622L949.2 739L950.0 740L950.8 737L951.5 735L952.2 710L953.0 681L953.8 706L954.5 648L955.2 647L956.0 534L956.8 508L957.5 518L958.2 642L959.0 652L959.8 738L960.5 635L961.2 655L962.0 738L962.8 741L963.5 760L964.2 756L965.0 646L965.8 644L966.5 591L967.2 727L968.0 555L968.8 534L969.5 515L970.2 762L971.0 773L971.8 753L972.5 696L973.2 721L974.0 700L974.8 687L975.5 672L976.2 636L977.0 678L977.8 601L978.5 698L979.2 786L980.0 794L980.8 790L981.5 748L982.2 742L983.0 708L983.8 664L984.5 693L985.2 663L986.0 724L986.8 642L987.5 634L988.2 626L989.0 643L989.8 674L990.5 628L991.2 656L992.0 748L992.8 734L993.5 741L994.2 734L995.0 676L995.8 574L996.5 591L997.2 625L998.0 650L998.8 705L999.5 689L1000.2 693L1001.0 652L1001.8 726L1002.5 768L1003.2 772L1004.0 767L1004.8 717L1005.5 737L1006.2 599L1007.0 600L1007.8 584L1008.5 594L1009.2 612L1010.0 751L1010.8 738L1011.5 685L1012.2 624L1013.0 695L1013.8 650L1014.5 747L1015.2 824L1016.0 838L1016.8 815L1017.5 752L1018.2 670L1019.0 723L1019.8 658L1020.5 663L1021.2 699L1022.0 656L1022.8 698L1023.5 716L1024.2 659L1025.0 725L1025.8 870L1026.5 898L1027.2 862L1028.0 562L1028.8 566L1029.5 616L1030.2 620L1031.0 604L1031.8 750L1032.5 597L1033.2 660L1034.0 646L1034.8 628L1035.5 628L1036.2 664L1037.0 733L1037.8 742L1038.5 736L1039.2 681L1040.0 634L1040.8 629L1041.5 604L1042.2 605L1043.0 627L1043.8 628L1044.5 703L1045.2 554L1046.0 510L1046.8 486L1047.5 503L1048.2 555L1049.0 766L1049.8 858L1050.5 889L1051.2 801L1052.0 732L1052.8 458L1053.5 513L1054.2 534L1055.0 738L1055.8 733L1056.5 746L1057.2 719L1058.0 659L1058.8 633L1059.5 624L1060.2 633L1061.0 654L1061.8 712L1062.5 773L1063.2 798L1064.0 792L1064.8 758L1065.5 733L1066.2 708L1067.0 749L1067.8 573L1068.5 581L1069.2 556L1070.0 571L1070.8 692L1071.5 741L1072.2 561L1073.0 522L1073.8 483L1074.5 511L1075.2 525L1076.0 722L1076.8 809L1077.5 832L1078.2 820L1079.0 766L1079.8 662L1080.5 570L1081.2 549L1082.0 559L1082.8 607L1083.5 619L1084.2 662L1085.0 708L1085.8 730L1086.5 763L1087.2 796L1088.0 763L1088.8 456L1089.5 393L1090.2 454L1091.0 563L1091.8 645L1092.5 768L1093.2 914L1094.0 948L1094.8 907L1095.5 801L1096.2 752L1097.0 662L1097.8 656L1098.5 731L1099.2 768L1100.0 608L1100.8 625L1101.5 598L1102.2 616L1103.0 662L1103.8 679L1104.5 783L1105.2 790L1106.0 787L1106.8 753L1107.5 622L1108.2 597L1109.0 609L1109.8 677L1110.5 647L1111.2 651L1112.0 748L1112.8 769L1113.5 770L1114.2 758L1115.0 752L1115.8 630L1116.5 771L1117.2 676L1118.0 545L1118.8 513L1119.5 543L1120.2 683L1121.0 673L1121.8 769L1122.5 685L1123.2 822L1124.0 871L1124.8 850L1125.5 733L1126.2 676L1127.0 764L1127.8 767L1128.5 577L1129.2 472L1130.0 406L1130.8 462L1131.5 580L1132.2 691L1133.0 617L1133.8 730L1134.5 678L1135.2 845L1136.0 866L1136.8 888L1137.5 846L1138.2 709L1139.0 639L1139.8 729L1140.5 822L1141.2 931L1142.0 945L1142.8 870L1143.5 853L1144.2 770L1145.0 636L1145.8 617L1146.5 608L1147.2 743L1148.0 838L1148.8 880L1149.5 852L1150.2 799L1151.0 615L1151.8 608L1152.5 582L1153.2 578L1154.0 676L1154.8 727L1155.5 707L1156.2 707L1157.0 671L1157.8 625L1158.5 624L1159.2 615L1160.0 759L1160.8 790L1161.5 761L1162.2 732L1163.0 706L1163.8 664L1164.5 663L1165.2 679L1166.0 725L1166.8 683L1167.5 711L1168.2 777L1169.0 734L1169.8 735L1170.5 717L1171.2 554L1172.0 568L1172.8 659L1173.5 637L1174.2 732L1175.0 695L1175.8 754L1176.5 719L1177.2 613L1178.0 758L1178.8 672L1179.5 619L1180.2 619L1181.0 599L1181.8 636L1182.5 633L1183.2 663L1184.0 647L1184.8 752L1185.5 602L1186.2 728L1187.0 752L1187.8 785L1188.5 800L1189.2 784L1190.0 751L1190.8 729L1191.5 644L1192.2 653L1193.0 645L1193.8 697L1194.5 757L1195.2 671L1196.0 639L1196.8 767L1197.5 908L1198.2 957L1199.0 933L1199.8 816L1200.5 634L1201.2 877L1202.0 912L1202.8 902L1203.5 739L1204.2 736L1205.0 572L1205.8 557L1206.5 569L1207.2 730L1208.0 745L1208.8 720L1209.5 726L1210.2 748L1211.0 764L1211.8 732L1212.5 735L1213.2 776L1214.0 703L1214.8 633L1215.5 599L1216.2 606L1217.0 674L1217.8 646L1218.5 670L1219.2 651L1220.0 772L1220.8 826L1221.5 842L1222.2 823L1223.0 726L1223.8 571L1224.5 523L1225.2 548L1226.0 596L1226.8 668L1227.5 728L1228.2 661L1229.0 681L1229.8 544L1230.5 521L1231.2 558L1232.0 597L1232.8 791L1233.5 731L1234.2 745L1235.0 726L1235.8 668L1236.5 553L1237.2 559L1238.0 603L1238.8 704L1239.5 728L1240.2 705L1241.0 711L1241.8 730L1242.5 716L1243.2 795L1244.0 856L1244.8 876L1245.5 855L1246.2 733L1247.0 723L1247.8 719L1248.5 769L1249.2 779L1250.0 800L1250.8 786L1251.5 856L1252.2 868L1253.0 842L1253.8 759L1254.5 633L1255.2 624L1256.0 659L1256.8 683L1257.5 724L1258.2 802L1259.0 778L1259.8 737L1260.5 809L1261.2 686L1262.0 621L1262.8 591L1263.5 693L1264.2 783L1265.0 820L1265.8 786L1266.5 735L1267.2 781L1268.0 810L1268.8 688L1269.5 622L1270.2 556L1271.0 580L1271.8 640L1272.5 733L1273.2 789L1274.0 794L1274.8 821L1275.5 804L1276.2 775L1277.0 676L1277.8 674L1278.5 671L1279.2 684L1280.0 719L1280.8 800L1281.5 809L1282.2 803L1283.0 788L1283.8 695L1284.5 690L1285.2 678L1286.0 697L1286.8 770L1287.5 796L1288.2 798L1289.0 707L1289.8 746L1290.5 684L1291.2 688L1292.0 808L1292.8 849L1293.5 821L1294.2 795L1295.0 797L1295.8 768L1296.5 759L1297.2 703L1298.0 783L1298.8 687L1299.5 774L1300.2 715L1301.0 711L1301.8 800L1302.5 813L1303.2 776L1304.0 597L1304.8 537L1305.5 525L1306.2 808L1307.0 910L1307.8 942L1308.5 915L1309.2 818L1310.0 628L1310.8 594L1311.5 634L1312.2 744L1313.0 845L1313.8 862L1314.5 843L1315.2 781L1316.0 763L1316.8 736L1317.5 645L1318.2 629L1319.0 790L1319.8 845L1320.5 818L1321.2 824L1322.0 689L1322.8 696L1323.5 647L1324.2 774L1325.0 813L1325.8 831L1326.5 816L1327.2 723L1328.0 668L1328.8 660L1329.5 666L1330.2 725L1331.0 772L1331.8 732L1332.5 746L1333.2 778L1334.0 793L1334.8 725L1335.5 789L1336.2 734L1337.0 810L1337.8 662L1338.5 748L1339.2 840L1340.0 874L1340.8 866L1341.5 757L1342.2 640L1343.0 650L1343.8 746L1344.5 696L1345.2 760L1346.0 740L1346.8 650L1347.5 618L1348.2 596L1349.0 617L1349.8 683L1350.5 800L1351.2 756L1352.0 742L1352.8 652L1353.5 691L1354.2 680L1355.0 678L1355.8 781L1356.5 798L1357.2 815L1358.0 788L1358.8 746L1359.5 782L1360.2 698L1361.0 655L1361.8 663L1362.5 637L1363.2 757L1364.0 930L1364.8 978L1365.5 919L1366.2 912L1367.0 720L1367.8 775L1368.5 820L1369.2 829L1370.0 811L1370.8 545L1371.5 573L1372.2 662L1373.0 769L1373.8 733L1374.5 796L1375.2 689L1376.0 663L1376.8 655L1377.5 697L1378.2 735L1379.0 751L1379.8 811L1380.5 742L1381.2 704L1382.0 650L1382.8 633L1383.5 631L1384.2 743L1385.0 733L1385.8 781L1386.5 759L1387.2 644L1388.0 620L1388.8 601L1389.5 630L1390.2 675L1391.0 799L1391.8 773L1392.5 756L1393.2 718L1394.0 576L1394.8 607L1395.5 713L1396.2 832L1397.0 730L1397.8 777L1398.5 1008L1399.2 1052L1400.0 999L1400.8 743L1401.5 656L1402.2 681L1403.0 694L1403.8 826L1404.5 716L1405.2 880L1406.0 909L1406.8 892L1407.5 790L1408.2 781L1409.0 702L1409.8 681L1410.5 831L1411.2 882L1412.0 858L1412.8 788L1413.5 707L1414.2 732L1415.0 708L1415.8 780L1416.5 774L1417.2 764L1418.0 707L1418.8 769L1419.5 723L1420.2 693L1421.0 666L1421.8 655L1422.5 741L1423.2 796L1424.0 817L1424.8 807L1425.5 758L1426.2 790L1427.0 830L1427.8 793L1428.5 716L1429.2 703L1430.0 668L1430.8 683L1431.5 738L1432.2 702L1433.0 716L1433.8 761L1434.5 875L1435.2 912L1436.0 959L1436.8 928L1437.5 770L1438.2 715L1439.0 695L1439.8 709L1440.5 721L1441.2 797L1442.0 782L1442.8 804L1443.5 839L1444.2 843L1445.0 871L1445.8 865L1446.5 725L1447.2 714L1448.0 762L1448.8 753L1449.5 806L1450.2 754L1451.0 800L1451.8 865L1452.5 878L1453.2 850L1454.0 629L1454.8 560L1455.5 602L1456.2 646L1457.0 888L1457.8 947L1458.5 972L1459.2 918L1460.0 729L1460.8 693L1461.5 809L1462.2 801L1463.0 721L1463.8 844L1464.5 755L1465.2 718L1466.0 698L1466.8 669L1467.5 679L1468.2 751L1469.0 729L1469.8 758L1470.5 818L1471.2 814L1472.0 837L1472.8 843L1473.5 812L1474.2 847L1475.0 765L1475.8 731L1476.5 800L1477.2 714L1478.0 720L1478.8 708L1479.5 704L1480.2 715L1481.0 791L1481.8 847L1482.5 893L1483.2 930L1484.0 907L1484.8 896L1485.5 729L1486.2 828L1487.0 775L1487.8 698L1488.5 546L1489.2 528L1490.0 599L1490.8 693L1491.5 788L1492.2 823L1493.0 839L1493.8 780L1494.5 792L1495.2 789L1496.0 757L1496.8 666L1497.5 637L1498.2 617L1499.0 627L1499.8 716L1500.5 850L1501.2 736L1502.0 838L1502.8 763L1503.5 826L1504.2 840L1505.0 806L1505.8 820L1506.5 803L1507.2 850L1508.0 887L1508.8 944L1509.5 993L1510.2 959L1511.0 830L1511.8 581L1512.5 616L1513.2 663L1514.0 707L1514.8 846L1515.5 861L1516.2 842L1517.0 813L1517.8 741L1518.5 693L1519.2 683L1520.0 690L1520.8 835L1521.5 942L1522.2 955L1523.0 906L1523.8 921L1524.5 866L1525.2 809L1526.0 739L1526.8 733L1527.5 665L1528.2 647L1529.0 652L1529.8 721L1530.5 866L1531.2 728L1532.0 723L1532.8 840L1533.5 833L1534.2 755L1535.0 775L1535.8 821L1536.5 746L1537.2 595L1538.0 570L1538.8 848L1539.5 893L1540.2 874L1541.0 838L1541.8 772L1542.5 766L1543.2 839L1544.0 802L1544.8 764L1545.5 797L1546.2 791L1547.0 806L1547.8 747L1548.5 771L1549.2 790L1550.0 730L1550.8 815L1551.5 878L1552.2 906L1553.0 885L1553.8 824L1554.5 697L1555.2 703L1556.0 721L1556.8 789L1557.5 847L1558.2 898L1559.0 911L1559.8 900L1560.5 815L1561.2 729L1562.0 861L1562.8 736L1563.5 833L1564.2 815L1565.0 766L1565.8 630L1566.5 567L1567.2 607L1568.0 719L1568.8 789L1569.5 761L1570.2 848L1571.0 815L1571.8 822L1572.5 815L1573.2 759L1574.0 843L1574.8 777L1575.5 795L1576.2 736L1577.0 789L1577.8 803L1578.5 822L1579.2 823L1580.0 820L1580.8 662L1581.5 618L1582.2 588L1583.0 655L1583.8 668L1584.5 800L1585.2 875L1586.0 848L1586.8 856L1587.5 848L1588.2 786L1589.0 691L1589.8 709L1590.5 763L1591.2 776L1592.0 764L1592.8 864L1593.5 766L1594.2 865L1595.0 872L1595.8 911L1596.5 885L1597.2 765L1598.0 738L1598.8 706L1599.5 667L1600.2 773L1601.0 895L1601.8 942L1602.5 916L1603.2 831L1604.0 752L1604.8 861L1605.5 808L1606.2 817L1607.0 739L1607.8 734L1608.5 755L1609.2 777L1610.0 812L1610.8 776L1611.5 838L1612.2 878L1613.0 955L1613.8 967L1614.5 947L1615.2 883L1616.0 776L1616.8 686L1617.5 683L1618.2 682L1619.0 753L1619.8 751L1620.5 791L1621.2 777L1622.0 808L1622.8 830L1623.5 716L1624.2 864L1625.0 802L1625.8 893L1626.5 954L1627.2 968L1628.0 964L1628.8 788L1629.5 693L1630.2 798L1631.0 714L1631.8 703L1632.5 897L1633.2 795L1634.0 854L1634.8 687L1635.5 704L1636.2 663L1637.0 693L1637.8 753L1638.5 891L1639.2 795L1640.0 712L1640.8 849L1641.5 955L1642.2 980L1643.0 905L1643.8 668L1644.5 677L1645.2 778L1646.0 899L1646.8 928L1647.5 953L1648.2 974L1649.0 960L1649.8 903L1650.5 851L1651.2 844L1652.0 736L1652.8 712L1653.5 804L1654.2 726L1655.0 769L1655.8 854L1656.5 872L1657.2 881L1658.0 799L1658.8 815L1659.5 896L1660.2 835L1661.0 777L1661.8 856L1662.5 720L1663.2 676L1664.0 674L1664.8 705L1665.5 687L1666.2 837L1667.0 830L1667.8 819L1668.5 891L1669.2 848L1670.0 841L1670.8 778L1671.5 743L1672.2 693L1673.0 651L1673.8 677L1674.5 726L1675.2 799L1676.0 722L1676.8 681L1677.5 908L1678.2 988L1679.0 1050L1679.8 979L1680.5 941L1681.2 823L1682.0 710L1682.8 817L1683.5 700L1684.2 789L1685.0 694L1685.8 684L1686.5 643L1687.2 654L1688.0 811L1688.8 914L1689.5 963L1690.2 944L1691.0 848L1691.8 700L1692.5 700L1693.2 687L1694.0 714L1694.8 713L1695.5 809L1696.2 890L1697.0 736L1697.8 970L1698.5 999L1699.2 955L1700.0 746L1700.8 677L1701.5 693L1702.2 719L1703.0 686L1703.8 897L1704.5 915L1705.2 954L1706.0 931L1706.8 832L1707.5 711L1708.2 812L1709.0 822L1709.8 725L1710.5 899L1711.2 948L1712.0 1016L1712.8 945L1713.5 891L1714.2 775L1715.0 656L1715.8 646L1716.5 664L1717.2 676L1718.0 855L1718.8 841L1719.5 806L1720.2 818L1721.0 922L1721.8 933L1722.5 921L1723.2 753L1724.0 640L1724.8 649L1725.5 704L1726.2 819L1727.0 730L1727.8 984L1728.5 1032L1729.2 1094L1730.0 980L1730.8 692L1731.5 616L1732.2 660L1733.0 660L1733.8 830L1734.5 927L1735.2 954L1736.0 925L1736.8 899L1737.5 706L1738.2 692L1739.0 745L1739.8 755L1740.5 749L1741.2 683L1742.0 810L1742.8 863L1743.5 893L1744.2 956L1745.0 949L1745.8 664L1746.5 794L1747.2 682L1748.0 712L1748.8 649L1749.5 649L1750.2 805L1751.0 893L1751.8 922L1752.5 903L1753.2 725L1754.0 655L1754.8 664L1755.5 682L1756.2 744L1757.0 841L1757.8 837L1758.5 824L1759.2 735L1760.0 682L1760.8 675L1761.5 689L1762.2 682L1763.0 771L1763.8 865L1764.5 869L1765.2 698L1766.0 855L1766.8 877L1767.5 870L1768.2 825L1769.0 795L1769.8 748L1770.5 854L1771.2 712L1772.0 661L1772.8 642L1773.5 661L1774.2 675L1775.0 758L1775.8 768L1776.5 855L1777.2 887L1778.0 897L1778.8 886L1779.5 769L1780.2 799L1781.0 852L1781.8 768L1782.5 752L1783.2 655L1784.0 645L1784.8 634L1785.5 640L1786.2 799L1787.0 774L1787.8 775L1788.5 926L1789.2 944L1790.0 934L1790.8 775L1791.5 853L1792.2 867L1793.0 722L1793.8 714L1794.5 620L1795.2 595L1796.0 628L1796.8 755L1797.5 865L1798.2 719L1799.0 734L1799.8 883L1800.5 902L1801.2 931L1802.0 914L1802.8 910L1803.5 786L1804.2 716L1805.0 716L1805.8 727L1806.5 765L1807.2 822L1808.0 845L1808.8 879L1809.5 805L1810.2 741L1811.0 802L1811.8 690L1812.5 855L1813.2 878L1814.0 921L1814.8 1024L1815.5 1034L1816.2 1015L1817.0 816L1817.8 830L1818.5 756L1819.2 757L1820.0 757L1820.8 742L1821.5 783L1822.2 799L1823.0 772L1823.8 787L1824.5 710L1825.2 768L1826.0 813L1826.8 767L1827.5 820L1828.2 835L1829.0 998L1829.8 1013L1830.5 949L1831.2 760L1832.0 764L1832.8 793L1833.5 832L1834.2 827L1835.0 913L1835.8 950L1836.5 894L1837.2 841L1838.0 840L1838.8 832L1839.5 809L1840.2 770L1841.0 783L1841.8 836L1842.5 783L1843.2 711L1844.0 700L1844.8 863L1845.5 918L1846.2 902L1847.0 892L1847.8 770L1848.5 779L1849.2 734L1850.0 734L1850.8 735L1851.5 769L1852.2 874L1853.0 877L1853.8 880L1854.5 854L1855.2 812L1856.0 742L1856.8 699L1857.5 686L1858.2 676L1859.0 920L1859.8 1004L1860.5 996L1861.2 937L1862.0 751L1862.8 746L1863.5 839L1864.2 838L1865.0 747L1865.8 677L1866.5 678L1867.2 701L1868.0 704L1868.8 779L1869.5 830L1870.2 774L1871.0 776L1871.8 741L1872.5 809L1873.2 781L1874.0 866L1874.8 887L1875.5 861L1876.2 806L1877.0 645L1877.8 684L1878.5 710L1879.2 830L1880.0 794L1880.8 808L1881.5 865L1882.2 814L1883.0 795L1883.8 823L1884.5 807L1885.2 764L1886.0 813L1886.8 759L1887.5 859L1888.2 835L1889.0 915L1889.8 975L1890.5 992L1891.2 979L1892.0 917L1892.8 767L1893.5 769L1894.2 708L1895.0 698L1895.8 711L1896.5 724L1897.2 855L1898.0 767L1898.8 769L1899.5 923L1900.2 946L1901.0 930L1901.8 801L1902.5 676L1903.2 645L1904.0 666L1904.8 702L1905.5 764L1906.2 857L1907.0 824L1907.8 884L1908.5 899L1909.2 877L1910.0 810L1910.8 784L1911.5 772L1912.2 814L1913.0 819" fill="none" stroke="#000000" stroke-width="3.6" stroke-linejoin="round"/>
<path d="M282.5 274L283.2 430L284.0 278L284.8 251L285.5 250L286.2 254L287.0 293L287.8 355L288.5 376L289.2 262L290.0 253L290.8 231L291.5 402L292.2 474L293.0 457L293.8 364L294.5 287L295.2 241L296.0 232L296.8 251L297.5 273L298.2 243L299.0 226L299.8 237L300.5 286L301.2 408L302.0 381L302.8 344L303.5 253L304.2 147L305.0 130L305.8 140L306.5 235L307.2 418L308.0 395L308.8 439L309.5 183L310.2 175L311.0 147L311.8 168L312.5 255L313.2 432L314.0 471L314.8 517L315.5 484L316.2 399L317.0 320L317.8 242L318.5 221L319.2 228L320.0 302L320.8 427L321.5 408L322.2 455L323.0 460L323.8 445L324.5 442L325.2 440L326.0 442L326.8 387L327.5 316L328.2 267L329.0 266L329.8 268L330.5 361L331.2 364L332.0 356L332.8 414L333.5 437L334.2 510L335.0 530L335.8 503L336.5 278L337.2 283L338.0 369L338.8 408L339.5 441L340.2 430L341.0 313L341.8 313L342.5 320L343.2 345L344.0 438L344.8 364L345.5 447L346.2 344L347.0 447L347.8 359L348.5 436L349.2 535L350.0 627L350.8 559L351.5 262L352.2 267L353.0 334L353.8 397L354.5 355L355.2 426L356.0 397L356.8 439L357.5 404L358.2 404L359.0 459L359.8 307L360.5 272L361.2 247L362.0 251L362.8 347L363.5 479L364.2 379L365.0 304L365.8 303L366.5 382L367.2 556L368.0 577L368.8 517L369.5 479L370.2 406L371.0 439L371.8 412L372.5 437L373.2 485L374.0 499L374.8 439L375.5 325L376.2 311L377.0 316L377.8 336L378.5 392L379.2 397L380.0 397L380.8 432L381.5 352L382.2 459L383.0 461L383.8 457L384.5 445L385.2 485L386.0 487L386.8 469L387.5 301L388.2 367L389.0 437L389.8 497L390.5 481L391.2 464L392.0 400L392.8 462L393.5 431L394.2 382L395.0 314L395.8 326L396.5 304L397.2 336L398.0 372L398.8 460L399.5 445L400.2 436L401.0 398L401.8 364L402.5 359L403.2 367L404.0 328L404.8 458L405.5 450L406.2 455L407.0 442L407.8 491L408.5 395L409.2 420L410.0 403L410.8 387L411.5 399L412.2 502L413.0 545L413.8 519L414.5 450L415.2 436L416.0 498L416.8 306L417.5 294L418.2 256L419.0 317L419.8 432L420.5 458L421.2 444L422.0 259L422.8 225L423.5 258L424.2 392L425.0 346L425.8 458L426.5 460L427.2 479L428.0 450L428.8 435L429.5 379L430.2 362L431.0 354L431.8 523L432.5 596L433.2 551L434.0 482L434.8 458L435.5 492L436.2 476L437.0 459L437.8 417L438.5 483L439.2 387L440.0 332L440.8 329L441.5 463L442.2 580L443.0 608L443.8 562L444.5 465L445.2 407L446.0 472L446.8 458L447.5 404L448.2 393L449.0 358L449.8 358L450.5 358L451.2 414L452.0 421L452.8 379L453.5 375L454.2 409L455.0 411L455.8 458L456.5 417L457.2 367L458.0 347L458.8 359L459.5 437L460.2 514L461.0 571L461.8 582L462.5 529L463.2 515L464.0 496L464.8 549L465.5 515L466.2 455L467.0 429L467.8 404L468.5 595L469.2 696L470.0 735L470.8 683L471.5 370L472.2 365L473.0 372L473.8 399L474.5 406L475.2 639L476.0 696L476.8 645L477.5 457L478.2 325L479.0 261L479.8 229L480.5 231L481.2 314L482.0 409L482.8 530L483.5 534L484.2 542L485.0 519L485.8 505L486.5 444L487.2 516L488.0 455L488.8 359L489.5 301L490.2 254L491.0 276L491.8 374L492.5 463L493.2 413L494.0 485L494.8 484L495.5 391L496.2 509L497.0 470L497.8 481L498.5 492L499.2 495L500.0 426L500.8 408L501.5 413L502.2 532L503.0 425L503.8 412L504.5 390L505.2 422L506.0 498L506.8 551L507.5 538L508.2 481L509.0 459L509.8 404L510.5 399L511.2 403L512.0 469L512.8 365L513.5 557L514.2 566L515.0 500L515.8 458L516.5 306L517.2 311L518.0 416L518.8 534L519.5 496L520.2 488L521.0 422L521.8 420L522.5 513L523.2 522L524.0 540L524.8 467L525.5 462L526.2 423L527.0 498L527.8 560L528.5 586L529.2 556L530.0 367L530.8 345L531.5 328L532.2 352L533.0 399L533.8 525L534.5 515L535.2 359L536.0 315L536.8 264L537.5 267L538.2 347L539.0 445L539.8 451L540.5 485L541.2 495L542.0 534L542.8 545L543.5 532L544.2 451L545.0 458L545.8 543L546.5 490L547.2 462L548.0 445L548.8 487L549.5 336L550.2 343L551.0 302L551.8 302L552.5 550L553.2 591L554.0 572L554.8 499L555.5 333L556.2 326L557.0 337L557.8 357L558.5 485L559.2 512L560.0 480L560.8 596L561.5 642L562.2 619L563.0 515L563.8 486L564.5 445L565.2 562L566.0 524L566.8 614L567.5 632L568.2 596L569.0 509L569.8 414L570.5 417L571.2 417L572.0 485L572.8 518L573.5 467L574.2 479L575.0 586L575.8 620L576.5 599L577.2 595L578.0 491L578.8 476L579.5 551L580.2 463L581.0 375L581.8 357L582.5 379L583.2 431L584.0 457L584.8 396L585.5 381L586.2 386L587.0 440L587.8 517L588.5 496L589.2 581L590.0 597L590.8 572L591.5 391L592.2 444L593.0 452L593.8 470L594.5 459L595.2 375L596.0 356L596.8 365L597.5 473L598.2 508L599.0 581L599.8 625L600.5 581L601.2 448L602.0 440L602.8 443L603.5 501L604.2 484L605.0 560L605.8 573L606.5 566L607.2 537L608.0 402L608.8 400L609.5 411L610.2 440L611.0 461L611.8 419L612.5 466L613.2 502L614.0 504L614.8 466L615.5 602L616.2 679L617.0 740L617.8 722L618.5 584L619.2 482L620.0 474L620.8 595L621.5 429L622.2 444L623.0 416L623.8 423L624.5 474L625.2 600L626.0 449L626.8 476L627.5 590L628.2 673L629.0 702L629.8 672L630.5 494L631.2 405L632.0 269L632.8 232L633.5 283L634.2 437L635.0 586L635.8 502L636.5 659L637.2 698L638.0 612L638.8 654L639.5 604L640.2 470L641.0 509L641.8 502L642.5 502L643.2 504L644.0 583L644.8 604L645.5 565L646.2 586L647.0 461L647.8 485L648.5 509L649.2 546L650.0 519L650.8 605L651.5 494L652.2 517L653.0 495L653.8 473L654.5 670L655.2 620L656.0 596L656.8 573L657.5 532L658.2 467L659.0 491L659.8 586L660.5 388L661.2 366L662.0 361L662.8 363L663.5 423L664.2 495L665.0 631L665.8 665L666.5 600L667.2 419L668.0 404L668.8 424L669.5 573L670.2 638L671.0 656L671.8 645L672.5 587L673.2 612L674.0 496L674.8 542L675.5 560L676.2 443L677.0 571L677.8 526L678.5 460L679.2 447L680.0 448L680.8 519L681.5 594L682.2 502L683.0 533L683.8 629L684.5 585L685.2 636L686.0 507L686.8 512L687.5 477L688.2 462L689.0 560L689.8 586L690.5 598L691.2 580L692.0 472L692.8 427L693.5 420L694.2 437L695.0 518L695.8 606L696.5 522L697.2 653L698.0 673L698.8 647L699.5 550L700.2 497L701.0 381L701.8 369L702.5 395L703.2 447L704.0 514L704.8 622L705.5 577L706.2 577L707.0 614L707.8 609L708.5 563L709.2 525L710.0 524L710.8 538L711.5 538L712.2 579L713.0 641L713.8 541L714.5 612L715.2 578L716.0 763L716.8 837L717.5 794L718.2 667L719.0 513L719.8 536L720.5 581L721.2 640L722.0 661L722.8 646L723.5 561L724.2 554L725.0 603L725.8 577L726.5 752L727.2 808L728.0 767L728.8 566L729.5 533L730.2 434L731.0 428L731.8 434L732.5 524L733.2 598L734.0 684L734.8 714L735.5 659L736.2 647L737.0 572L737.8 497L738.5 483L739.2 469L740.0 471L740.8 562L741.5 644L742.2 652L743.0 645L743.8 615L744.5 525L745.2 442L746.0 460L746.8 494L747.5 644L748.2 585L749.0 526L749.8 518L750.5 496L751.2 464L752.0 557L752.8 530L753.5 611L754.2 559L755.0 487L755.8 487L756.5 579L757.2 633L758.0 662L758.8 658L759.5 564L760.2 555L761.0 540L761.8 542L762.5 637L763.2 695L764.0 645L764.8 555L765.5 502L766.2 698L767.0 806L767.8 759L768.5 710L769.2 653L770.0 552L770.8 323L771.5 274L772.2 289L773.0 343L773.8 642L774.5 560L775.2 648L776.0 628L776.8 604L777.5 669L778.2 690L779.0 642L779.8 577L780.5 643L781.2 637L782.0 560L782.8 563L783.5 568L784.2 560L785.0 566L785.8 645L786.5 673L787.2 628L788.0 608L788.8 603L789.5 611L790.2 617L791.0 587L791.8 653L792.5 645L793.2 659L794.0 588L794.8 728L795.5 762L796.2 854L797.0 819L797.8 661L798.5 640L799.2 457L800.0 436L800.8 427L801.5 428L802.2 584L803.0 543L803.8 826L804.5 898L805.2 849L806.0 465L806.8 476L807.5 616L808.2 533L809.0 567L809.8 627L810.5 498L811.2 486L812.0 482L812.8 508L813.5 612L814.2 642L815.0 588L815.8 466L816.5 457L817.2 460L818.0 525L818.8 580L819.5 548L820.2 534L821.0 653L821.8 495L822.5 638L823.2 652L824.0 596L824.8 495L825.5 511L826.2 589L827.0 537L827.8 546L828.5 638L829.2 629L830.0 551L830.8 419L831.5 453L832.2 432L833.0 578L833.8 544L834.5 504L835.2 545L836.0 609L836.8 622L837.5 616L838.2 540L839.0 483L839.8 612L840.5 477L841.2 697L842.0 667L842.8 584L843.5 667L844.2 676L845.0 637L845.8 661L846.5 573L847.2 581L848.0 457L848.8 436L849.5 452L850.2 514L851.0 777L851.8 803L852.5 753L853.2 504L854.0 508L854.8 568L855.5 548L856.2 561L857.0 682L857.8 673L858.5 561L859.2 561L860.0 573L860.8 510L861.5 737L862.2 701L863.0 638L863.8 591L864.5 680L865.2 659L866.0 718L866.8 744L867.5 696L868.2 526L869.0 472L869.8 480L870.5 532L871.2 615L872.0 586L872.8 689L873.5 606L874.2 565L875.0 539L875.8 536L876.5 559L877.2 557L878.0 689L878.8 523L879.5 561L880.2 579L881.0 704L881.8 707L882.5 646L883.2 625L884.0 525L884.8 684L885.5 544L886.2 567L887.0 692L887.8 560L888.5 493L889.2 490L890.0 496L890.8 595L891.5 698L892.2 560L893.0 621L893.8 600L894.5 606L895.2 665L896.0 654L896.8 602L897.5 426L898.2 452L899.0 507L899.8 592L900.5 551L901.2 581L902.0 657L902.8 655L903.5 564L904.2 635L905.0 631L905.8 522L906.5 513L907.2 520L908.0 574L908.8 707L909.5 733L910.2 747L911.0 662L911.8 323L912.5 324L913.2 466L914.0 639L914.8 603L915.5 608L916.2 555L917.0 685L917.8 713L918.5 729L919.2 717L920.0 608L920.8 525L921.5 524L922.2 546L923.0 745L923.8 930L924.5 1020L925.2 940L926.0 780L926.8 580L927.5 606L928.2 603L929.0 618L929.8 543L930.5 637L931.2 620L932.0 557L932.8 556L933.5 626L934.2 670L935.0 642L935.8 677L936.5 608L937.2 620L938.0 574L938.8 707L939.5 617L940.2 681L941.0 692L941.8 684L942.5 657L943.2 656L944.0 649L944.8 664L945.5 544L946.2 505L947.0 504L947.8 516L948.5 577L949.2 700L950.0 703L950.8 700L951.5 697L952.2 668L953.0 653L953.8 668L954.5 624L955.2 602L956.0 480L956.8 469L957.5 469L958.2 605L959.0 614L959.8 704L960.5 610L961.2 625L962.0 707L962.8 688L963.5 710L964.2 705L965.0 601L965.8 613L966.5 549L967.2 696L968.0 514L968.8 478L969.5 477L970.2 719L971.0 744L971.8 712L972.5 638L973.2 690L974.0 664L974.8 651L975.5 634L976.2 605L977.0 645L977.8 548L978.5 662L979.2 745L980.0 759L980.8 752L981.5 712L982.2 707L983.0 672L983.8 627L984.5 667L985.2 633L986.0 690L986.8 601L987.5 596L988.2 588L989.0 598L989.8 638L990.5 603L991.2 626L992.0 708L992.8 685L993.5 690L994.2 680L995.0 605L995.8 535L996.5 546L997.2 595L998.0 621L998.8 670L999.5 657L1000.2 661L1001.0 618L1001.8 677L1002.5 728L1003.2 734L1004.0 727L1004.8 660L1005.5 709L1006.2 552L1007.0 550L1007.8 545L1008.5 551L1009.2 583L1010.0 714L1010.8 703L1011.5 656L1012.2 596L1013.0 665L1013.8 620L1014.5 681L1015.2 776L1016.0 796L1016.8 764L1017.5 690L1018.2 634L1019.0 698L1019.8 625L1020.5 628L1021.2 665L1022.0 618L1022.8 658L1023.5 685L1024.2 622L1025.0 625L1025.8 813L1026.5 854L1027.2 797L1028.0 523L1028.8 524L1029.5 569L1030.2 586L1031.0 563L1031.8 711L1032.5 554L1033.2 619L1034.0 605L1034.8 589L1035.5 593L1036.2 603L1037.0 696L1037.8 707L1038.5 700L1039.2 648L1040.0 600L1040.8 581L1041.5 566L1042.2 568L1043.0 593L1043.8 588L1044.5 666L1045.2 509L1046.0 453L1046.8 447L1047.5 454L1048.2 501L1049.0 681L1049.8 791L1050.5 834L1051.2 713L1052.0 622L1052.8 419L1053.5 454L1054.2 497L1055.0 705L1055.8 677L1056.5 695L1057.2 667L1058.0 602L1058.8 589L1059.5 585L1060.2 596L1061.0 613L1061.8 656L1062.5 724L1063.2 755L1064.0 747L1064.8 705L1065.5 706L1066.2 673L1067.0 711L1067.8 530L1068.5 535L1069.2 517L1070.0 527L1070.8 649L1071.5 700L1072.2 512L1073.0 461L1073.8 444L1074.5 457L1075.2 485L1076.0 650L1076.8 758L1077.5 787L1078.2 770L1079.0 713L1079.8 629L1080.5 525L1081.2 511L1082.0 523L1082.8 571L1083.5 594L1084.2 622L1085.0 670L1085.8 676L1086.5 705L1087.2 745L1088.0 700L1088.8 371L1089.5 354L1090.2 398L1091.0 513L1091.8 619L1092.5 717L1093.2 855L1094.0 899L1094.8 844L1095.5 721L1096.2 714L1097.0 636L1097.8 629L1098.5 705L1099.2 736L1100.0 575L1100.8 575L1101.5 559L1102.2 570L1103.0 628L1103.8 618L1104.5 723L1105.2 732L1106.0 737L1106.8 691L1107.5 579L1108.2 558L1109.0 569L1109.8 647L1110.5 617L1111.2 625L1112.0 703L1112.8 720L1113.5 719L1114.2 707L1115.0 715L1115.8 576L1116.5 734L1117.2 627L1118.0 495L1118.8 474L1119.5 504L1120.2 648L1121.0 645L1121.8 743L1122.5 648L1123.2 753L1124.0 812L1124.8 786L1125.5 658L1126.2 644L1127.0 731L1127.8 737L1128.5 539L1129.2 411L1130.0 368L1130.8 399L1131.5 537L1132.2 666L1133.0 563L1133.8 694L1134.5 640L1135.2 785L1136.0 805L1136.8 836L1137.5 785L1138.2 633L1139.0 602L1139.8 691L1140.5 739L1141.2 862L1142.0 887L1142.8 789L1143.5 763L1144.2 739L1145.0 607L1145.8 578L1146.5 569L1147.2 651L1148.0 776L1148.8 836L1149.5 790L1150.2 735L1151.0 584L1151.8 557L1152.5 544L1153.2 546L1154.0 638L1154.8 699L1155.5 678L1156.2 673L1157.0 632L1157.8 590L1158.5 584L1159.2 577L1160.0 697L1160.8 740L1161.5 701L1162.2 682L1163.0 664L1163.8 624L1164.5 624L1165.2 635L1166.0 680L1166.8 657L1167.5 676L1168.2 747L1169.0 707L1169.8 683L1170.5 655L1171.2 516L1172.0 525L1172.8 614L1173.5 591L1174.2 701L1175.0 668L1175.8 714L1176.5 685L1177.2 564L1178.0 730L1178.8 632L1179.5 579L1180.2 580L1181.0 560L1181.8 583L1182.5 592L1183.2 637L1184.0 617L1184.8 720L1185.5 563L1186.2 702L1187.0 701L1187.8 731L1188.5 740L1189.2 722L1190.0 699L1190.8 694L1191.5 617L1192.2 614L1193.0 614L1193.8 658L1194.5 725L1195.2 640L1196.0 613L1196.8 704L1197.5 835L1198.2 900L1199.0 864L1199.8 730L1200.5 585L1201.2 821L1202.0 861L1202.8 846L1203.5 639L1204.2 693L1205.0 523L1205.8 518L1206.5 519L1207.2 673L1208.0 695L1208.8 664L1209.5 694L1210.2 714L1211.0 730L1211.8 693L1212.5 708L1213.2 737L1214.0 659L1214.8 587L1215.5 560L1216.2 561L1217.0 635L1217.8 618L1218.5 637L1219.2 619L1220.0 746L1220.8 773L1221.5 797L1222.2 777L1223.0 666L1223.8 515L1224.5 484L1225.2 488L1226.0 549L1226.8 635L1227.5 690L1228.2 633L1229.0 643L1229.8 486L1230.5 483L1231.2 509L1232.0 559L1232.8 754L1233.5 676L1234.2 694L1235.0 670L1235.8 589L1236.5 515L1237.2 519L1238.0 558L1238.8 676L1239.5 692L1240.2 671L1241.0 675L1241.8 696L1242.5 680L1243.2 741L1244.0 809L1244.8 833L1245.5 803L1246.2 661L1247.0 683L1247.8 684L1248.5 743L1249.2 741L1250.0 764L1250.8 736L1251.5 799L1252.2 814L1253.0 786L1253.8 675L1254.5 594L1255.2 585L1256.0 603L1256.8 638L1257.5 691L1258.2 765L1259.0 749L1259.8 705L1260.5 777L1261.2 635L1262.0 569L1262.8 553L1263.5 603L1264.2 715L1265.0 762L1265.8 727L1266.5 669L1267.2 747L1268.0 780L1268.8 647L1269.5 563L1270.2 518L1271.0 527L1271.8 595L1272.5 695L1273.2 739L1274.0 747L1274.8 780L1275.5 760L1276.2 727L1277.0 637L1277.8 636L1278.5 642L1279.2 646L1280.0 678L1280.8 747L1281.5 758L1282.2 750L1283.0 744L1283.8 661L1284.5 654L1285.2 640L1286.0 651L1286.8 741L1287.5 770L1288.2 772L1289.0 679L1289.8 698L1290.5 651L1291.2 650L1292.0 746L1292.8 798L1293.5 757L1294.2 745L1295.0 759L1295.8 742L1296.5 723L1297.2 675L1298.0 752L1298.8 654L1299.5 742L1300.2 675L1301.0 674L1301.8 774L1302.5 777L1303.2 749L1304.0 554L1304.8 490L1305.5 487L1306.2 718L1307.0 857L1307.8 909L1308.5 871L1309.2 740L1310.0 575L1310.8 556L1311.5 586L1312.2 671L1313.0 795L1313.8 812L1314.5 787L1315.2 732L1316.0 729L1316.8 697L1317.5 602L1318.2 590L1319.0 720L1319.8 795L1320.5 763L1321.2 772L1322.0 651L1322.8 663L1323.5 614L1324.2 711L1325.0 761L1325.8 781L1326.5 761L1327.2 681L1328.0 627L1328.8 622L1329.5 629L1330.2 685L1331.0 747L1331.8 692L1332.5 715L1333.2 749L1334.0 761L1334.8 686L1335.5 753L1336.2 709L1337.0 777L1337.8 616L1338.5 700L1339.2 780L1340.0 823L1340.8 810L1341.5 675L1342.2 602L1343.0 612L1343.8 708L1344.5 662L1345.2 731L1346.0 711L1346.8 604L1347.5 564L1348.2 558L1349.0 568L1349.8 640L1350.5 776L1351.2 718L1352.0 711L1352.8 621L1353.5 649L1354.2 642L1355.0 645L1355.8 727L1356.5 742L1357.2 765L1358.0 725L1358.8 683L1359.5 747L1360.2 660L1361.0 618L1361.8 614L1362.5 599L1363.2 637L1364.0 857L1364.8 924L1365.5 848L1366.2 844L1367.0 687L1367.8 722L1368.5 765L1369.2 779L1370.0 748L1370.8 507L1371.5 514L1372.2 617L1373.0 734L1373.8 704L1374.5 772L1375.2 647L1376.0 625L1376.8 617L1377.5 633L1378.2 685L1379.0 700L1379.8 784L1380.5 711L1381.2 662L1382.0 612L1382.8 595L1383.5 599L1384.2 706L1385.0 703L1385.8 745L1386.5 728L1387.2 599L1388.0 579L1388.8 563L1389.5 573L1390.2 632L1391.0 771L1391.8 735L1392.5 706L1393.2 652L1394.0 538L1394.8 561L1395.5 669L1396.2 792L1397.0 694L1397.8 680L1398.5 941L1399.2 1000L1400.0 922L1400.8 626L1401.5 618L1402.2 639L1403.0 649L1403.8 787L1404.5 617L1405.2 815L1406.0 844L1406.8 824L1407.5 747L1408.2 741L1409.0 656L1409.8 643L1410.5 766L1411.2 832L1412.0 799L1412.8 723L1413.5 682L1414.2 702L1415.0 675L1415.8 748L1416.5 745L1417.2 730L1418.0 671L1418.8 739L1419.5 687L1420.2 652L1421.0 625L1421.8 617L1422.5 673L1423.2 740L1424.0 767L1424.8 761L1425.5 692L1426.2 750L1427.0 804L1427.8 754L1428.5 676L1429.2 661L1430.0 630L1430.8 638L1431.5 710L1432.2 660L1433.0 687L1433.8 724L1434.5 804L1435.2 854L1436.0 910L1436.8 867L1437.5 680L1438.2 670L1439.0 657L1439.8 665L1440.5 688L1441.2 759L1442.0 753L1442.8 767L1443.5 784L1444.2 783L1445.0 820L1445.8 812L1446.5 661L1447.2 680L1448.0 727L1448.8 715L1449.5 767L1450.2 718L1451.0 737L1451.8 812L1452.5 828L1453.2 791L1454.0 534L1454.8 522L1455.5 549L1456.2 591L1457.0 819L1457.8 889L1458.5 922L1459.2 851L1460.0 696L1460.8 658L1461.5 774L1462.2 769L1463.0 682L1463.8 807L1464.5 721L1465.2 675L1466.0 649L1466.8 631L1467.5 641L1468.2 709L1469.0 701L1469.8 731L1470.5 789L1471.2 772L1472.0 789L1472.8 794L1473.5 751L1474.2 812L1475.0 727L1475.8 707L1476.5 771L1477.2 685L1478.0 675L1478.8 670L1479.5 670L1480.2 680L1481.0 764L1481.8 773L1482.5 828L1483.2 874L1484.0 844L1484.8 836L1485.5 700L1486.2 803L1487.0 738L1487.8 644L1488.5 494L1489.2 490L1490.0 540L1490.8 663L1491.5 750L1492.2 799L1493.0 809L1493.8 729L1494.5 743L1495.2 739L1496.0 708L1496.8 619L1497.5 589L1498.2 579L1499.0 592L1499.8 671L1500.5 821L1501.2 704L1502.0 814L1502.8 728L1503.5 793L1504.2 807L1505.0 772L1505.8 789L1506.5 776L1507.2 821L1508.0 821L1508.8 873L1509.5 932L1510.2 881L1511.0 721L1511.8 543L1512.5 562L1513.2 616L1514.0 655L1514.8 795L1515.5 812L1516.2 792L1517.0 758L1517.8 697L1518.5 651L1519.2 645L1520.0 653L1520.8 760L1521.5 884L1522.2 907L1523.0 842L1523.8 868L1524.5 831L1525.2 776L1526.0 715L1526.8 685L1527.5 619L1528.2 609L1529.0 615L1529.8 694L1530.5 829L1531.2 695L1532.0 692L1532.8 803L1533.5 802L1534.2 731L1535.0 741L1535.8 789L1536.5 705L1537.2 539L1538.0 533L1538.8 778L1539.5 848L1540.2 825L1541.0 779L1541.8 736L1542.5 730L1543.2 811L1544.0 774L1544.8 735L1545.5 767L1546.2 756L1547.0 769L1547.8 721L1548.5 743L1549.2 756L1550.0 698L1550.8 750L1551.5 833L1552.2 870L1553.0 839L1553.8 761L1554.5 659L1555.2 665L1556.0 682L1556.8 751L1557.5 782L1558.2 834L1559.0 857L1559.8 851L1560.5 753L1561.2 704L1562.0 829L1562.8 711L1563.5 801L1564.2 789L1565.0 721L1565.8 569L1566.5 530L1567.2 559L1568.0 678L1568.8 757L1569.5 724L1570.2 814L1571.0 763L1571.8 773L1572.5 772L1573.2 709L1574.0 815L1574.8 744L1575.5 760L1576.2 713L1577.0 751L1577.8 759L1578.5 783L1579.2 774L1580.0 772L1580.8 609L1581.5 566L1582.2 551L1583.0 597L1583.8 615L1584.5 767L1585.2 845L1586.0 798L1586.8 807L1587.5 794L1588.2 719L1589.0 654L1589.8 667L1590.5 730L1591.2 750L1592.0 740L1592.8 840L1593.5 740L1594.2 816L1595.0 813L1595.8 862L1596.5 829L1597.2 731L1598.0 699L1598.8 654L1599.5 630L1600.2 673L1601.0 840L1601.8 907L1602.5 870L1603.2 758L1604.0 720L1604.8 835L1605.5 779L1606.2 784L1607.0 711L1607.8 707L1608.5 720L1609.2 739L1610.0 779L1610.8 747L1611.5 800L1612.2 811L1613.0 902L1613.8 923L1614.5 890L1615.2 822L1616.0 740L1616.8 648L1617.5 646L1618.2 648L1619.0 712L1619.8 715L1620.5 756L1621.2 751L1622.0 782L1622.8 793L1623.5 687L1624.2 826L1625.0 774L1625.8 845L1626.5 893L1627.2 917L1628.0 910L1628.8 687L1629.5 648L1630.2 764L1631.0 656L1631.8 679L1632.5 859L1633.2 764L1634.0 828L1634.8 636L1635.5 651L1636.2 626L1637.0 648L1637.8 705L1638.5 861L1639.2 771L1640.0 688L1640.8 815L1641.5 891L1642.2 923L1643.0 826L1643.8 631L1644.5 637L1645.2 731L1646.0 862L1646.8 881L1647.5 909L1648.2 938L1649.0 910L1649.8 843L1650.5 825L1651.2 806L1652.0 705L1652.8 675L1653.5 778L1654.2 699L1655.0 727L1655.8 804L1656.5 824L1657.2 853L1658.0 746L1658.8 779L1659.5 861L1660.2 801L1661.0 744L1661.8 818L1662.5 680L1663.2 637L1664.0 637L1664.8 661L1665.5 637L1666.2 801L1667.0 801L1667.8 783L1668.5 856L1669.2 801L1670.0 789L1670.8 718L1671.5 712L1672.2 641L1673.0 614L1673.8 641L1674.5 696L1675.2 768L1676.0 675L1676.8 644L1677.5 811L1678.2 918L1679.0 1004L1679.8 909L1680.5 865L1681.2 785L1682.0 673L1682.8 782L1683.5 665L1684.2 760L1685.0 646L1685.8 624L1686.5 606L1687.2 615L1688.0 722L1688.8 851L1689.5 919L1690.2 883L1691.0 804L1691.8 660L1692.5 656L1693.2 650L1694.0 669L1694.8 674L1695.5 772L1696.2 863L1697.0 679L1697.8 912L1698.5 948L1699.2 889L1700.0 641L1700.8 640L1701.5 643L1702.2 684L1703.0 658L1703.8 841L1704.5 856L1705.2 906L1706.0 879L1706.8 760L1707.5 680L1708.2 775L1709.0 777L1709.8 695L1710.5 837L1711.2 904L1712.0 1004L1712.8 896L1713.5 850L1714.2 739L1715.0 619L1715.8 609L1716.5 628L1717.2 644L1718.0 832L1718.8 810L1719.5 770L1720.2 779L1721.0 866L1721.8 877L1722.5 855L1723.2 660L1724.0 603L1724.8 609L1725.5 673L1726.2 782L1727.0 698L1727.8 905L1728.5 961L1729.2 1039L1730.0 886L1730.8 583L1731.5 580L1732.2 614L1733.0 602L1733.8 756L1734.5 874L1735.2 907L1736.0 874L1736.8 845L1737.5 677L1738.2 663L1739.0 710L1739.8 718L1740.5 720L1741.2 655L1742.0 786L1742.8 811L1743.5 829L1744.2 914L1745.0 904L1745.8 592L1746.5 759L1747.2 647L1748.0 676L1748.8 614L1749.5 612L1750.2 721L1751.0 832L1751.8 875L1752.5 844L1753.2 648L1754.0 619L1754.8 620L1755.5 643L1756.2 715L1757.0 805L1757.8 804L1758.5 796L1759.2 696L1760.0 644L1760.8 639L1761.5 652L1762.2 654L1763.0 747L1763.8 839L1764.5 844L1765.2 605L1766.0 801L1766.8 830L1767.5 820L1768.2 760L1769.0 758L1769.8 723L1770.5 827L1771.2 681L1772.0 609L1772.8 606L1773.5 605L1774.2 637L1775.0 721L1775.8 741L1776.5 808L1777.2 839L1778.0 851L1778.8 835L1779.5 721L1780.2 775L1781.0 815L1781.8 734L1782.5 723L1783.2 622L1784.0 613L1784.8 598L1785.5 598L1786.2 756L1787.0 747L1787.8 702L1788.5 867L1789.2 896L1790.0 880L1790.8 731L1791.5 825L1792.2 843L1793.0 676L1793.8 681L1794.5 580L1795.2 559L1796.0 579L1796.8 722L1797.5 838L1798.2 692L1799.0 709L1799.8 827L1800.5 849L1801.2 882L1802.0 860L1802.8 863L1803.5 747L1804.2 687L1805.0 680L1805.8 688L1806.5 726L1807.2 788L1808.0 808L1808.8 850L1809.5 776L1810.2 704L1811.0 775L1811.8 653L1812.5 821L1813.2 842L1814.0 849L1814.8 976L1815.5 994L1816.2 963L1817.0 714L1817.8 803L1818.5 723L1819.2 720L1820.0 720L1820.8 715L1821.5 755L1822.2 772L1823.0 742L1823.8 756L1824.5 661L1825.2 733L1826.0 786L1826.8 735L1827.5 795L1828.2 749L1829.0 933L1829.8 957L1830.5 877L1831.2 723L1832.0 726L1832.8 761L1833.5 807L1834.2 756L1835.0 870L1835.8 924L1836.5 845L1837.2 772L1838.0 808L1838.8 795L1839.5 783L1840.2 735L1841.0 751L1841.8 805L1842.5 743L1843.2 665L1844.0 664L1844.8 797L1845.5 872L1846.2 847L1847.0 845L1847.8 745L1848.5 752L1849.2 704L1850.0 698L1850.8 705L1851.5 732L1852.2 842L1853.0 831L1853.8 834L1854.5 806L1855.2 744L1856.0 713L1856.8 665L1857.5 653L1858.2 640L1859.0 835L1859.8 946L1860.5 933L1861.2 873L1862.0 716L1862.8 708L1863.5 804L1864.2 813L1865.0 715L1865.8 647L1866.5 642L1867.2 664L1868.0 666L1868.8 743L1869.5 801L1870.2 743L1871.0 739L1871.8 705L1872.5 774L1873.2 740L1874.0 819L1874.8 842L1875.5 804L1876.2 727L1877.0 609L1877.8 638L1878.5 665L1879.2 804L1880.0 761L1880.8 784L1881.5 834L1882.2 780L1883.0 769L1883.8 800L1884.5 775L1885.2 728L1886.0 776L1886.8 733L1887.5 821L1888.2 810L1889.0 848L1889.8 913L1890.5 939L1891.2 917L1892.0 853L1892.8 730L1893.5 733L1894.2 667L1895.0 662L1895.8 668L1896.5 687L1897.2 823L1898.0 741L1898.8 732L1899.5 880L1900.2 912L1901.0 889L1901.8 728L1902.5 634L1903.2 609L1904.0 631L1904.8 663L1905.5 727L1906.2 819L1907.0 771L1907.8 836L1908.5 857L1909.2 830L1910.0 752L1910.8 748L1911.5 748L1912.2 781L1913.0 785" fill="none" stroke="#00ff00" stroke-width="3.6" stroke-linejoin="round"/>
</g>
<g fill="#212121"><rect x="280" y="53" width="3" height="1319"/><rect x="1992" y="53" width="4" height="1319"/><rect x="280" y="53" width="1716" height="4"/><rect x="280" y="1368" width="1716" height="4"/></g>
<g font-family="Liberation Serif" font-size="78" fill="#212121">
<text x="281.5" y="1459" text-anchor="middle">0</text><text x="526.1" y="1459" text-anchor="middle">50</text><text x="770.8" y="1459" text-anchor="middle">100</text><text x="1015.4" y="1459" text-anchor="middle">150</text><text x="1260.1" y="1459" text-anchor="middle">200</text><text x="1504.7" y="1459" text-anchor="middle">250</text><text x="1749.4" y="1459" text-anchor="middle">300</text><text x="1994.0" y="1459" text-anchor="middle">350</text>
<text x="0" y="0" transform="translate(125.5,81.5) scale(1.28,1)">−</text><text x="258" y="73.5" text-anchor="end">10</text><text x="0" y="0" transform="translate(125.5,410.2) scale(1.28,1)">−</text><text x="258" y="402.2" text-anchor="end">15</text><text x="0" y="0" transform="translate(125.5,739.0) scale(1.28,1)">−</text><text x="258" y="731.0" text-anchor="end">20</text><text x="0" y="0" transform="translate(125.5,1067.8) scale(1.28,1)">−</text><text x="258" y="1059.8" text-anchor="end">25</text><text x="0" y="0" transform="translate(125.5,1396.5) scale(1.28,1)">−</text><text x="258" y="1388.5" text-anchor="end">30</text>
</g>
<text x="1137" y="1567" font-family="Liberation Sans" font-size="81" fill="#212121" text-anchor="middle">Time (s)</text>
<text transform="translate(89,712.5) rotate(-90)" font-family="Liberation Sans" font-size="81" fill="#414141" text-anchor="middle">MSE (dB)</text>
<g>
<rect x="1390" y="96" width="562.5" height="264.5" fill="#fff" stroke="#212121" stroke-width="3.6"/>
<path d="M1405.5 144.5H1565" stroke="#ff0000" stroke-width="3.2"/>
<path d="M1405.5 228.5H1565" stroke="#000000" stroke-width="3.2"/>
<path d="M1405.5 312.5H1565" stroke="#00ff00" stroke-width="3.2"/>
<g font-family="Liberation Sans" font-size="66.5" fill="#000">
<text x="1575" y="170">SFDFBANC</text>
<text x="1575" y="254">WAMANC</text>
<text x="1575" y="338">SAIMC</text>
</g>
</g>
</svg>
</body></html>
